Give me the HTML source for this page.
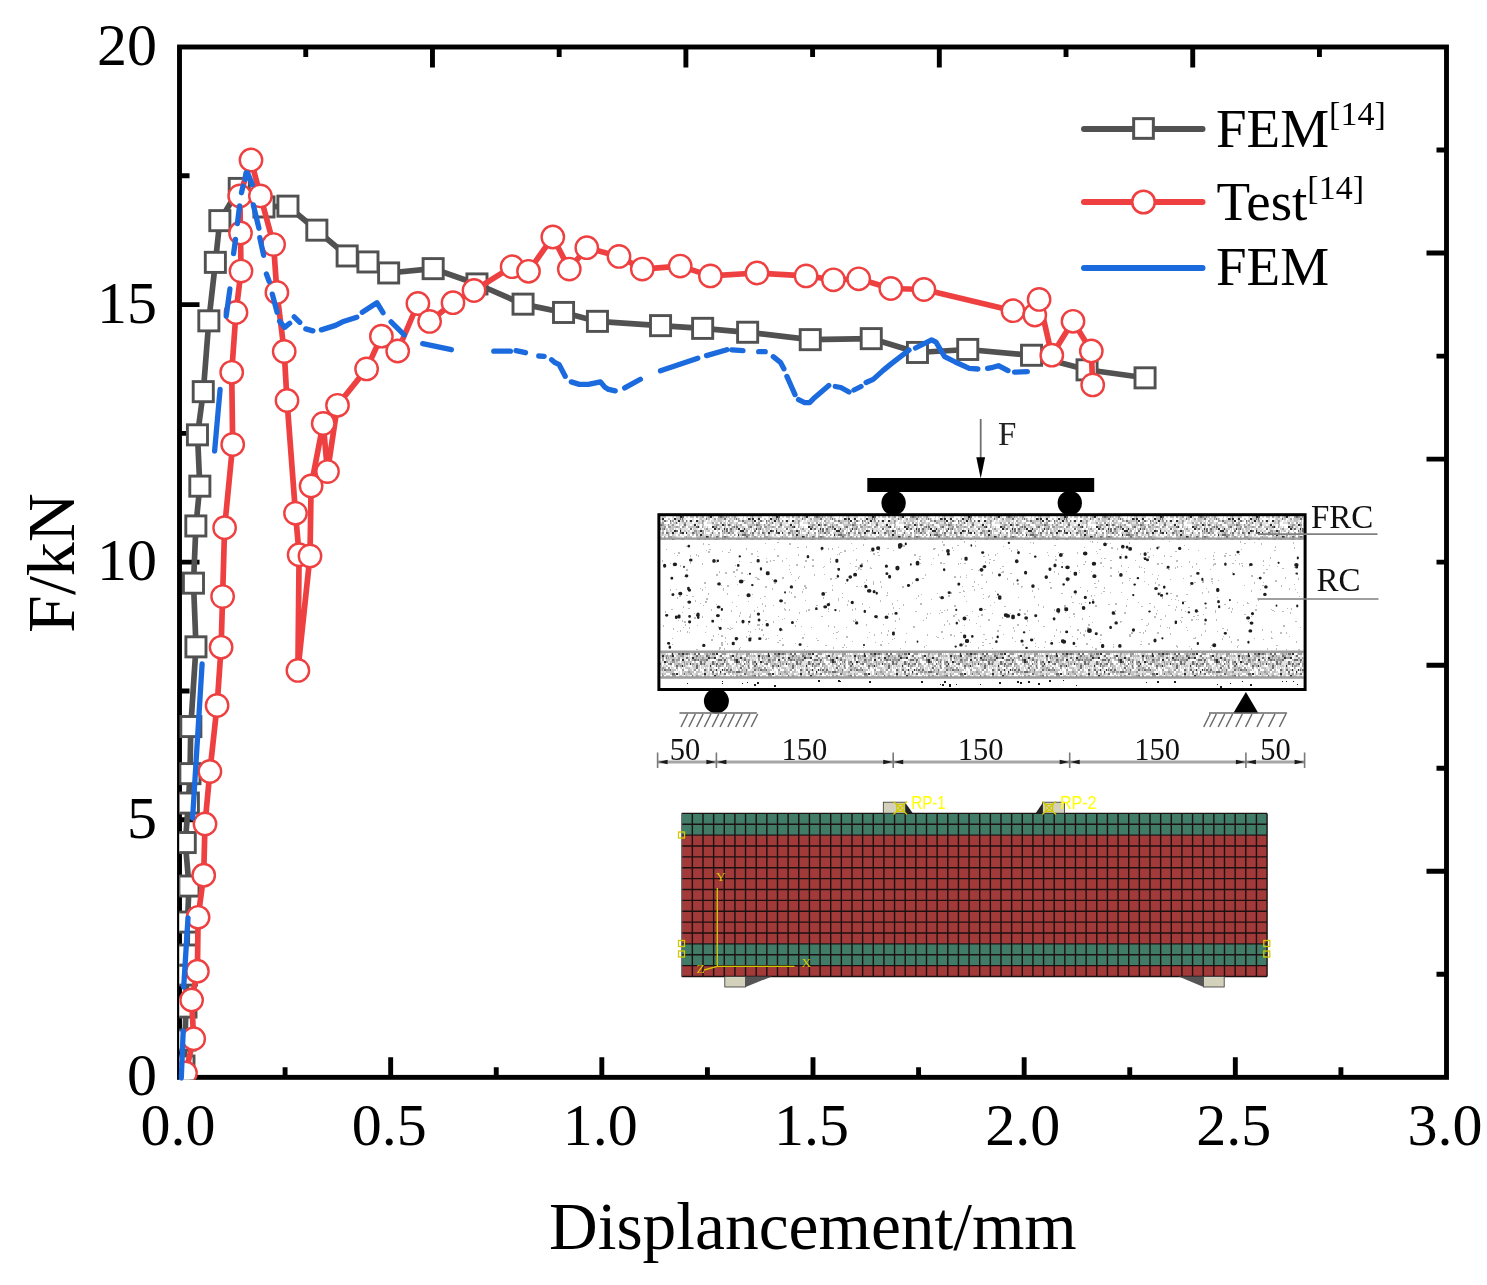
<!DOCTYPE html><html><head><meta charset="utf-8"><title>F-Displacement</title>
<style>html,body{margin:0;padding:0;background:#fff;overflow:hidden;width:1487px;height:1285px;}svg{display:block;}text{font-family:"Liberation Serif","Times New Roman",serif;}</style></head><body>
<svg width="1487" height="1285" viewBox="0 0 1487 1285">
<rect width="1487" height="1285" fill="#fff"/>
<defs>
<clipPath id="pc"><rect x="179.2" y="47.0" width="1267.3" height="1032.5"/></clipPath>
</defs>
<rect x="179.5" y="47.0" width="1267.0" height="1030.35" fill="none" stroke="#000" stroke-width="4.9"/>
<path d="M285.08,1077.35V1067.35M390.67,1077.35V1057.35M496.25,1077.35V1067.35M601.83,1077.35V1057.35M707.42,1077.35V1067.35M813.00,1077.35V1057.35M918.58,1077.35V1067.35M1024.17,1077.35V1057.35M1129.75,1077.35V1067.35M1235.33,1077.35V1057.35M1340.92,1077.35V1067.35M179.5,948.56H189.5M179.5,819.76H199.5M179.5,690.97H189.5M179.5,562.17H199.5M179.5,433.38H189.5M179.5,304.59H199.5M179.5,175.79H189.5M305.76,47.0V57.0M432.47,47.0V67.5M559.18,47.0V57.0M685.89,47.0V67.5M812.60,47.0V57.0M939.31,47.0V67.5M1066.02,47.0V57.0M1192.73,47.0V67.5M1319.44,47.0V57.0M1446.5,150.03H1436.5M1446.5,253.07H1426.5M1446.5,356.11H1436.5M1446.5,459.14H1426.5M1446.5,562.17H1436.5M1446.5,665.21H1426.5M1446.5,768.25H1436.5M1446.5,871.28H1426.5M1446.5,974.31H1436.5" stroke="#000" stroke-width="4.9" fill="none"/>
<g clip-path="url(#pc)">
<polyline points="180.5,1076.0 184.0,1066.0 185.0,1040.0 186.0,1007.0 186.5,975.0 187.0,955.0 187.5,922.0 189.0,886.0 185.3,842.5 188.4,803.0 190.0,773.6 190.8,726.5 196.0,646.8 193.5,583.1 195.9,525.9 199.8,486.2 197.5,434.9 203.3,391.7 208.8,320.9 215.4,262.4 219.8,220.7 239.3,188.5 264.0,207.0 288.0,206.2 316.8,230.2 347.2,256.0 368.0,262.0 388.6,273.0 433.2,268.7 477.0,284.0 523.0,304.1 563.5,312.5 597.4,321.4 660.5,325.6 702.6,328.4 747.6,332.3 810.3,339.6 871.2,338.6 917.4,352.5 967.7,349.5 1031.5,355.3 1087.0,369.8 1145.0,377.8" fill="none" stroke="#515151" stroke-width="5.7" stroke-linejoin="round"/>
<rect x="170.4" y="1066.0" width="20.1" height="20.1" fill="#fff" stroke="#515151" stroke-width="2.9"/>
<rect x="173.9" y="1056.0" width="20.1" height="20.1" fill="#fff" stroke="#515151" stroke-width="2.9"/>
<rect x="174.9" y="1030.0" width="20.1" height="20.1" fill="#fff" stroke="#515151" stroke-width="2.9"/>
<rect x="175.9" y="997.0" width="20.1" height="20.1" fill="#fff" stroke="#515151" stroke-width="2.9"/>
<rect x="176.4" y="965.0" width="20.1" height="20.1" fill="#fff" stroke="#515151" stroke-width="2.9"/>
<rect x="176.9" y="945.0" width="20.1" height="20.1" fill="#fff" stroke="#515151" stroke-width="2.9"/>
<rect x="177.4" y="912.0" width="20.1" height="20.1" fill="#fff" stroke="#515151" stroke-width="2.9"/>
<rect x="178.9" y="876.0" width="20.1" height="20.1" fill="#fff" stroke="#515151" stroke-width="2.9"/>
<rect x="175.2" y="832.5" width="20.1" height="20.1" fill="#fff" stroke="#515151" stroke-width="2.9"/>
<rect x="178.3" y="793.0" width="20.1" height="20.1" fill="#fff" stroke="#515151" stroke-width="2.9"/>
<rect x="179.9" y="763.6" width="20.1" height="20.1" fill="#fff" stroke="#515151" stroke-width="2.9"/>
<rect x="180.8" y="716.5" width="20.1" height="20.1" fill="#fff" stroke="#515151" stroke-width="2.9"/>
<rect x="185.9" y="636.8" width="20.1" height="20.1" fill="#fff" stroke="#515151" stroke-width="2.9"/>
<rect x="183.4" y="573.1" width="20.1" height="20.1" fill="#fff" stroke="#515151" stroke-width="2.9"/>
<rect x="185.8" y="515.9" width="20.1" height="20.1" fill="#fff" stroke="#515151" stroke-width="2.9"/>
<rect x="189.8" y="476.1" width="20.1" height="20.1" fill="#fff" stroke="#515151" stroke-width="2.9"/>
<rect x="187.4" y="424.8" width="20.1" height="20.1" fill="#fff" stroke="#515151" stroke-width="2.9"/>
<rect x="193.2" y="381.6" width="20.1" height="20.1" fill="#fff" stroke="#515151" stroke-width="2.9"/>
<rect x="198.8" y="310.8" width="20.1" height="20.1" fill="#fff" stroke="#515151" stroke-width="2.9"/>
<rect x="205.3" y="252.3" width="20.1" height="20.1" fill="#fff" stroke="#515151" stroke-width="2.9"/>
<rect x="209.8" y="210.6" width="20.1" height="20.1" fill="#fff" stroke="#515151" stroke-width="2.9"/>
<rect x="229.2" y="178.4" width="20.1" height="20.1" fill="#fff" stroke="#515151" stroke-width="2.9"/>
<rect x="253.9" y="196.9" width="20.1" height="20.1" fill="#fff" stroke="#515151" stroke-width="2.9"/>
<rect x="277.9" y="196.1" width="20.1" height="20.1" fill="#fff" stroke="#515151" stroke-width="2.9"/>
<rect x="306.8" y="220.1" width="20.1" height="20.1" fill="#fff" stroke="#515151" stroke-width="2.9"/>
<rect x="337.1" y="245.9" width="20.1" height="20.1" fill="#fff" stroke="#515151" stroke-width="2.9"/>
<rect x="357.9" y="251.9" width="20.1" height="20.1" fill="#fff" stroke="#515151" stroke-width="2.9"/>
<rect x="378.6" y="262.9" width="20.1" height="20.1" fill="#fff" stroke="#515151" stroke-width="2.9"/>
<rect x="423.1" y="258.6" width="20.1" height="20.1" fill="#fff" stroke="#515151" stroke-width="2.9"/>
<rect x="466.9" y="273.9" width="20.1" height="20.1" fill="#fff" stroke="#515151" stroke-width="2.9"/>
<rect x="513.0" y="294.1" width="20.1" height="20.1" fill="#fff" stroke="#515151" stroke-width="2.9"/>
<rect x="553.5" y="302.4" width="20.1" height="20.1" fill="#fff" stroke="#515151" stroke-width="2.9"/>
<rect x="587.4" y="311.3" width="20.1" height="20.1" fill="#fff" stroke="#515151" stroke-width="2.9"/>
<rect x="650.5" y="315.6" width="20.1" height="20.1" fill="#fff" stroke="#515151" stroke-width="2.9"/>
<rect x="692.6" y="318.3" width="20.1" height="20.1" fill="#fff" stroke="#515151" stroke-width="2.9"/>
<rect x="737.6" y="322.2" width="20.1" height="20.1" fill="#fff" stroke="#515151" stroke-width="2.9"/>
<rect x="800.2" y="329.6" width="20.1" height="20.1" fill="#fff" stroke="#515151" stroke-width="2.9"/>
<rect x="861.2" y="328.6" width="20.1" height="20.1" fill="#fff" stroke="#515151" stroke-width="2.9"/>
<rect x="907.4" y="342.4" width="20.1" height="20.1" fill="#fff" stroke="#515151" stroke-width="2.9"/>
<rect x="957.7" y="339.4" width="20.1" height="20.1" fill="#fff" stroke="#515151" stroke-width="2.9"/>
<rect x="1021.5" y="345.2" width="20.1" height="20.1" fill="#fff" stroke="#515151" stroke-width="2.9"/>
<rect x="1077.0" y="359.8" width="20.1" height="20.1" fill="#fff" stroke="#515151" stroke-width="2.9"/>
<rect x="1135.0" y="367.8" width="20.1" height="20.1" fill="#fff" stroke="#515151" stroke-width="2.9"/>
<polyline points="185.5,1073.0 193.7,1038.7 191.6,1000.0 197.4,971.2 198.1,917.3 203.7,875.2 205.0,824.0 209.9,771.5 217.1,705.4 221.1,647.3 222.6,596.6 224.6,527.7 232.7,444.4 231.7,372.3 236.0,312.4 241.0,271.1 240.5,233.0 239.8,195.9 251.0,160.0 260.4,195.9 273.6,244.6 276.9,292.4 284.2,351.5 287.0,400.5 295.5,513.3 299.1,554.7 297.9,670.4 310.0,555.9 311.1,486.0 323.2,423.4 327.5,471.6 337.5,405.3 366.6,368.9 381.4,336.2 397.7,351.0 417.9,303.5 429.6,321.4 453.0,302.7 474.0,290.5 512.1,266.7 528.5,271.3 552.8,237.0 569.3,269.1 586.8,247.7 619.0,256.4 642.3,269.1 680.2,266.1 710.4,275.9 757.0,273.0 806.1,275.9 833.4,279.8 858.7,278.8 890.8,288.5 923.9,289.5 1013.0,310.7 1034.8,315.0 1039.1,299.4 1051.8,355.2 1073.0,321.3 1091.3,351.0 1092.7,384.9" fill="none" stroke="#ee4040" stroke-width="5.7" stroke-linejoin="round"/>
<circle cx="185.5" cy="1073.0" r="11.2" fill="#fff" stroke="#ee4040" stroke-width="2.4"/>
<circle cx="193.7" cy="1038.7" r="11.2" fill="#fff" stroke="#ee4040" stroke-width="2.4"/>
<circle cx="191.6" cy="1000.0" r="11.2" fill="#fff" stroke="#ee4040" stroke-width="2.4"/>
<circle cx="197.4" cy="971.2" r="11.2" fill="#fff" stroke="#ee4040" stroke-width="2.4"/>
<circle cx="198.1" cy="917.3" r="11.2" fill="#fff" stroke="#ee4040" stroke-width="2.4"/>
<circle cx="203.7" cy="875.2" r="11.2" fill="#fff" stroke="#ee4040" stroke-width="2.4"/>
<circle cx="205.0" cy="824.0" r="11.2" fill="#fff" stroke="#ee4040" stroke-width="2.4"/>
<circle cx="209.9" cy="771.5" r="11.2" fill="#fff" stroke="#ee4040" stroke-width="2.4"/>
<circle cx="217.1" cy="705.4" r="11.2" fill="#fff" stroke="#ee4040" stroke-width="2.4"/>
<circle cx="221.1" cy="647.3" r="11.2" fill="#fff" stroke="#ee4040" stroke-width="2.4"/>
<circle cx="222.6" cy="596.6" r="11.2" fill="#fff" stroke="#ee4040" stroke-width="2.4"/>
<circle cx="224.6" cy="527.7" r="11.2" fill="#fff" stroke="#ee4040" stroke-width="2.4"/>
<circle cx="232.7" cy="444.4" r="11.2" fill="#fff" stroke="#ee4040" stroke-width="2.4"/>
<circle cx="231.7" cy="372.3" r="11.2" fill="#fff" stroke="#ee4040" stroke-width="2.4"/>
<circle cx="236.0" cy="312.4" r="11.2" fill="#fff" stroke="#ee4040" stroke-width="2.4"/>
<circle cx="241.0" cy="271.1" r="11.2" fill="#fff" stroke="#ee4040" stroke-width="2.4"/>
<circle cx="240.5" cy="233.0" r="11.2" fill="#fff" stroke="#ee4040" stroke-width="2.4"/>
<circle cx="239.8" cy="195.9" r="11.2" fill="#fff" stroke="#ee4040" stroke-width="2.4"/>
<circle cx="251.0" cy="160.0" r="11.2" fill="#fff" stroke="#ee4040" stroke-width="2.4"/>
<circle cx="260.4" cy="195.9" r="11.2" fill="#fff" stroke="#ee4040" stroke-width="2.4"/>
<circle cx="273.6" cy="244.6" r="11.2" fill="#fff" stroke="#ee4040" stroke-width="2.4"/>
<circle cx="276.9" cy="292.4" r="11.2" fill="#fff" stroke="#ee4040" stroke-width="2.4"/>
<circle cx="284.2" cy="351.5" r="11.2" fill="#fff" stroke="#ee4040" stroke-width="2.4"/>
<circle cx="287.0" cy="400.5" r="11.2" fill="#fff" stroke="#ee4040" stroke-width="2.4"/>
<circle cx="295.5" cy="513.3" r="11.2" fill="#fff" stroke="#ee4040" stroke-width="2.4"/>
<circle cx="299.1" cy="554.7" r="11.2" fill="#fff" stroke="#ee4040" stroke-width="2.4"/>
<circle cx="297.9" cy="670.4" r="11.2" fill="#fff" stroke="#ee4040" stroke-width="2.4"/>
<circle cx="310.0" cy="555.9" r="11.2" fill="#fff" stroke="#ee4040" stroke-width="2.4"/>
<circle cx="311.1" cy="486.0" r="11.2" fill="#fff" stroke="#ee4040" stroke-width="2.4"/>
<circle cx="323.2" cy="423.4" r="11.2" fill="#fff" stroke="#ee4040" stroke-width="2.4"/>
<circle cx="327.5" cy="471.6" r="11.2" fill="#fff" stroke="#ee4040" stroke-width="2.4"/>
<circle cx="337.5" cy="405.3" r="11.2" fill="#fff" stroke="#ee4040" stroke-width="2.4"/>
<circle cx="366.6" cy="368.9" r="11.2" fill="#fff" stroke="#ee4040" stroke-width="2.4"/>
<circle cx="381.4" cy="336.2" r="11.2" fill="#fff" stroke="#ee4040" stroke-width="2.4"/>
<circle cx="397.7" cy="351.0" r="11.2" fill="#fff" stroke="#ee4040" stroke-width="2.4"/>
<circle cx="417.9" cy="303.5" r="11.2" fill="#fff" stroke="#ee4040" stroke-width="2.4"/>
<circle cx="429.6" cy="321.4" r="11.2" fill="#fff" stroke="#ee4040" stroke-width="2.4"/>
<circle cx="453.0" cy="302.7" r="11.2" fill="#fff" stroke="#ee4040" stroke-width="2.4"/>
<circle cx="474.0" cy="290.5" r="11.2" fill="#fff" stroke="#ee4040" stroke-width="2.4"/>
<circle cx="512.1" cy="266.7" r="11.2" fill="#fff" stroke="#ee4040" stroke-width="2.4"/>
<circle cx="528.5" cy="271.3" r="11.2" fill="#fff" stroke="#ee4040" stroke-width="2.4"/>
<circle cx="552.8" cy="237.0" r="11.2" fill="#fff" stroke="#ee4040" stroke-width="2.4"/>
<circle cx="569.3" cy="269.1" r="11.2" fill="#fff" stroke="#ee4040" stroke-width="2.4"/>
<circle cx="586.8" cy="247.7" r="11.2" fill="#fff" stroke="#ee4040" stroke-width="2.4"/>
<circle cx="619.0" cy="256.4" r="11.2" fill="#fff" stroke="#ee4040" stroke-width="2.4"/>
<circle cx="642.3" cy="269.1" r="11.2" fill="#fff" stroke="#ee4040" stroke-width="2.4"/>
<circle cx="680.2" cy="266.1" r="11.2" fill="#fff" stroke="#ee4040" stroke-width="2.4"/>
<circle cx="710.4" cy="275.9" r="11.2" fill="#fff" stroke="#ee4040" stroke-width="2.4"/>
<circle cx="757.0" cy="273.0" r="11.2" fill="#fff" stroke="#ee4040" stroke-width="2.4"/>
<circle cx="806.1" cy="275.9" r="11.2" fill="#fff" stroke="#ee4040" stroke-width="2.4"/>
<circle cx="833.4" cy="279.8" r="11.2" fill="#fff" stroke="#ee4040" stroke-width="2.4"/>
<circle cx="858.7" cy="278.8" r="11.2" fill="#fff" stroke="#ee4040" stroke-width="2.4"/>
<circle cx="890.8" cy="288.5" r="11.2" fill="#fff" stroke="#ee4040" stroke-width="2.4"/>
<circle cx="923.9" cy="289.5" r="11.2" fill="#fff" stroke="#ee4040" stroke-width="2.4"/>
<circle cx="1013.0" cy="310.7" r="11.2" fill="#fff" stroke="#ee4040" stroke-width="2.4"/>
<circle cx="1034.8" cy="315.0" r="11.2" fill="#fff" stroke="#ee4040" stroke-width="2.4"/>
<circle cx="1039.1" cy="299.4" r="11.2" fill="#fff" stroke="#ee4040" stroke-width="2.4"/>
<circle cx="1051.8" cy="355.2" r="11.2" fill="#fff" stroke="#ee4040" stroke-width="2.4"/>
<circle cx="1073.0" cy="321.3" r="11.2" fill="#fff" stroke="#ee4040" stroke-width="2.4"/>
<circle cx="1091.3" cy="351.0" r="11.2" fill="#fff" stroke="#ee4040" stroke-width="2.4"/>
<circle cx="1092.7" cy="384.9" r="11.2" fill="#fff" stroke="#ee4040" stroke-width="2.4"/>
</g>
<path d="M181.3,1078.0 L183.2,1031.0M183.7,987.0 L188.0,918.0M192.6,818.0 L202.1,664.0M214.6,451.0 L220.1,389.3M226.2,316.1 L229.9,289.0M233.6,253.5 L235.5,239.4M237.4,223.6 L239.6,205.8M241.5,192.7 L243.0,186.2M245.0,179.5 L246.0,172.8 L247.6,173.0 L252.3,184.5M253.3,204.9 L258.9,228.2M259.8,237.6 L263.6,255.3M266.4,274.0 L269.2,281.5M272.3,294.1 L277.1,312.2M279.6,321.3 L284.6,327.4 L289.7,323.3M294.2,316.8 L299.8,322.3M305.8,328.9 L312.9,330.9M321.4,329.9 L335.6,325.4 L342.6,321.8 L356.8,317.3M362.3,312.2 L376.9,302.7 L383.0,312.7M391.1,321.8 L404.2,334.9M422.7,343.6 L451.4,349.7M493.8,351.2 L510.4,351.2M516.0,350.7 L525.5,352.7M538.7,356.0 L544.2,356.4M551.6,359.7 L555.1,362.7 L559.2,364.7 L565.2,376.3M571.3,381.9 L579.3,384.4 L588.4,384.4 L600.5,381.9 L604.6,386.9 L608.6,389.4 L615.2,390.9M624.7,387.9 L640.4,379.3M660.5,370.8 L697.8,358.3M706.5,355.6 L726.9,349.8M731.8,349.8 L743.0,350.7M758.7,351.7 L765.2,351.7M773.3,356.7 L780.4,362.3 L783.9,368.8M786.9,376.4 L791.4,386.5 L795.0,394.6M798.5,399.6 L804.6,402.6 L809.6,402.6 L813.6,398.6 L828.8,385.5M835.3,386.5 L840.9,387.5 L849.0,392.0M854.0,390.0 L861.0,386.5M866.1,382.5 L873.2,379.4 L883.2,370.4 L890.8,364.1 L909.0,350.1M915.5,348.0 L931.6,339.9 L936.0,342.1 L944.6,356.6 L955.3,362.0 L969.3,368.4 L977.9,369.0M987.6,368.4 L993.0,367.3 L998.4,365.7 L1008.0,370.6M1014.5,372.2 L1027.4,371.6" fill="none" stroke="#1b6bdf" stroke-width="5.3" stroke-linecap="round" stroke-linejoin="round"/>
<text x="178.0" y="1144.5" font-size="60" text-anchor="middle">0.0</text>
<text x="389.2" y="1144.5" font-size="60" text-anchor="middle">0.5</text>
<text x="600.3" y="1144.5" font-size="60" text-anchor="middle">1.0</text>
<text x="811.5" y="1144.5" font-size="60" text-anchor="middle">1.5</text>
<text x="1022.7" y="1144.5" font-size="60" text-anchor="middle">2.0</text>
<text x="1233.8" y="1144.5" font-size="60" text-anchor="middle">2.5</text>
<text x="1445.0" y="1144.5" font-size="60" text-anchor="middle">3.0</text>
<text x="157" y="1095.3" font-size="60" text-anchor="end">0</text>
<text x="157" y="837.8" font-size="60" text-anchor="end">5</text>
<text x="157" y="580.2" font-size="60" text-anchor="end">10</text>
<text x="157" y="322.6" font-size="60" text-anchor="end">15</text>
<text x="157" y="65.0" font-size="60" text-anchor="end">20</text>
<text x="812.9" y="1249" font-size="67.4" text-anchor="middle">Displancement/mm</text>
<text transform="translate(74.2,563) rotate(-90)" font-size="68" text-anchor="middle">F/kN</text>
<path d="M1084,128.9H1202.5" stroke="#515151" stroke-width="6" stroke-linecap="round"/>
<rect x="1133.65" y="118.65" width="19.7" height="19.7" fill="#fff" stroke="#515151" stroke-width="3"/>
<path d="M1084,202H1202.5" stroke="#ee4040" stroke-width="6" stroke-linecap="round"/>
<circle cx="1143.5" cy="202" r="11.3" fill="#fff" stroke="#ee4040" stroke-width="2.6"/>
<path d="M1084,268H1202.5" stroke="#1b6bdf" stroke-width="6" stroke-linecap="round"/>
<text x="1216" y="147.1" font-size="55">FEM<tspan font-size="34" dy="-22.4">[14]</tspan></text>
<text x="1216.5" y="219.9" font-size="55">Test<tspan font-size="34" dy="-20.8">[14]</tspan></text>
<text x="1216" y="285.3" font-size="55">FEM</text>
<defs>
<filter id="bl" x="-2%" y="-10%" width="104%" height="120%"><feGaussianBlur stdDeviation="0.8"/></filter>
<pattern id="frcA" patternUnits="userSpaceOnUse" x="660" y="516" width="96" height="24"><rect width="96" height="24" fill="#d0d0d0"/><path fill="#ffffff" d="M6 0h2v2h-2zM8 0h2v2h-2zM10 0h2v2h-2zM14 0h2v2h-2zM24 0h2v2h-2zM28 0h2v2h-2zM34 0h2v2h-2zM44 0h2v2h-2zM54 0h2v2h-2zM56 0h2v2h-2zM70 0h1v2h-1zM78 0h2v2h-2zM80 0h2v2h-2zM82 0h1v2h-1zM84 0h2v2h-2zM88 0h2v2h-2zM4 2h2v2h-2zM6 2h2v2h-2zM10 2h2v2h-2zM26 2h2v2h-2zM28 2h2v2h-2zM30 2h2v2h-2zM34 2h2v2h-2zM36 2h2v2h-2zM38 2h1v2h-1zM50 2h2v2h-2zM56 2h1v2h-1zM68 2h1v2h-1zM80 2h2v2h-2zM84 2h2v2h-2zM94 2h2v2h-2zM0 4h2v2h-2zM8 4h2v2h-2zM14 4h1v2h-1zM24 4h2v2h-2zM28 4h1v2h-1zM34 4h2v2h-2zM46 4h2v2h-2zM50 4h1v2h-1zM64 4h1v2h-1zM66 4h2v2h-2zM74 4h2v2h-2zM76 4h2v2h-2zM4 6h2v2h-2zM6 6h2v2h-2zM8 6h2v2h-2zM12 6h1v2h-1zM18 6h1v2h-1zM32 6h2v2h-2zM44 6h2v2h-2zM46 6h1v2h-1zM54 6h1v2h-1zM58 6h2v2h-2zM62 6h1v2h-1zM66 6h1v2h-1zM68 6h1v2h-1zM78 6h2v2h-2zM80 6h2v2h-2zM94 6h2v2h-2zM16 8h2v2h-2zM18 8h1v2h-1zM22 8h1v2h-1zM30 8h2v2h-2zM36 8h1v2h-1zM40 8h2v2h-2zM44 8h2v2h-2zM46 8h2v2h-2zM48 8h2v2h-2zM50 8h2v2h-2zM66 8h1v2h-1zM72 8h2v2h-2zM82 8h2v2h-2zM84 8h2v2h-2zM86 8h1v2h-1zM6 10h2v2h-2zM20 10h2v2h-2zM26 10h2v2h-2zM40 10h2v2h-2zM46 10h1v2h-1zM48 10h2v2h-2zM50 10h2v2h-2zM58 10h1v2h-1zM62 10h2v2h-2zM66 10h2v2h-2zM70 10h1v2h-1zM86 10h2v2h-2zM94 10h2v2h-2zM8 12h1v2h-1zM14 12h1v2h-1zM16 12h2v2h-2zM28 12h2v2h-2zM32 12h1v2h-1zM38 12h2v2h-2zM42 12h2v2h-2zM52 12h2v2h-2zM68 12h1v2h-1zM80 12h2v2h-2zM90 12h1v2h-1zM92 12h1v2h-1zM0 14h2v2h-2zM4 14h2v2h-2zM18 14h2v2h-2zM30 14h2v2h-2zM44 14h1v2h-1zM50 14h2v2h-2zM54 14h2v2h-2zM56 14h1v2h-1zM58 14h2v2h-2zM60 14h2v2h-2zM68 14h1v2h-1zM76 14h2v2h-2zM88 14h2v2h-2zM92 14h2v2h-2zM4 16h2v2h-2zM18 16h1v2h-1zM24 16h2v2h-2zM44 16h1v2h-1zM46 16h2v2h-2zM48 16h2v2h-2zM56 16h2v2h-2zM60 16h2v2h-2zM74 16h2v2h-2zM76 16h1v2h-1zM88 16h2v2h-2zM0 18h1v2h-1zM10 18h2v2h-2zM16 18h2v2h-2zM20 18h2v2h-2zM24 18h2v2h-2zM26 18h1v2h-1zM30 18h2v2h-2zM34 18h2v2h-2zM52 18h1v2h-1zM60 18h2v2h-2zM64 18h2v2h-2zM68 18h2v2h-2zM72 18h2v2h-2zM76 18h2v2h-2zM94 18h2v2h-2zM2 20h2v2h-2zM6 20h2v2h-2zM22 20h2v2h-2zM32 20h2v2h-2zM34 20h2v2h-2zM52 20h1v2h-1zM60 20h2v2h-2zM70 20h2v2h-2zM74 20h2v2h-2zM76 20h1v2h-1zM80 20h1v2h-1zM82 20h2v2h-2zM90 20h1v2h-1zM6 22h1v2h-1zM8 22h1v2h-1zM16 22h2v2h-2zM18 22h2v2h-2zM24 22h2v2h-2zM26 22h2v2h-2zM34 22h2v2h-2zM40 22h2v2h-2zM60 22h2v2h-2zM66 22h2v2h-2zM72 22h2v2h-2zM86 22h2v2h-2zM88 22h2v2h-2z"/><path fill="#e2e2e2" d="M0 0h2v2h-2zM12 0h1v2h-1zM26 0h1v2h-1zM38 0h2v2h-2zM52 0h1v2h-1zM76 0h2v2h-2zM86 0h1v2h-1zM94 0h2v2h-2zM0 2h1v2h-1zM12 2h2v2h-2zM24 2h2v2h-2zM32 2h2v2h-2zM42 2h2v2h-2zM44 2h2v2h-2zM52 2h2v2h-2zM66 2h2v2h-2zM72 2h2v2h-2zM82 2h2v2h-2zM86 2h2v2h-2zM16 4h1v2h-1zM20 4h1v2h-1zM32 4h2v2h-2zM40 4h1v2h-1zM44 4h2v2h-2zM48 4h2v2h-2zM52 4h2v2h-2zM56 4h1v2h-1zM62 4h2v2h-2zM70 4h2v2h-2zM20 6h2v2h-2zM26 6h2v2h-2zM28 6h2v2h-2zM30 6h1v2h-1zM34 6h2v2h-2zM36 6h2v2h-2zM48 6h2v2h-2zM50 6h1v2h-1zM74 6h2v2h-2zM82 6h2v2h-2zM88 6h2v2h-2zM90 6h2v2h-2zM6 8h2v2h-2zM10 8h1v2h-1zM14 8h2v2h-2zM20 8h2v2h-2zM26 8h2v2h-2zM28 8h2v2h-2zM32 8h1v2h-1zM38 8h2v2h-2zM52 8h2v2h-2zM60 8h2v2h-2zM44 10h2v2h-2zM68 10h1v2h-1zM78 10h2v2h-2zM84 10h2v2h-2zM92 10h2v2h-2zM18 12h2v2h-2zM22 12h2v2h-2zM24 12h2v2h-2zM26 12h2v2h-2zM36 12h2v2h-2zM40 12h2v2h-2zM48 12h2v2h-2zM50 12h2v2h-2zM60 12h2v2h-2zM62 12h2v2h-2zM74 12h1v2h-1zM8 14h2v2h-2zM12 14h2v2h-2zM22 14h2v2h-2zM26 14h2v2h-2zM32 14h2v2h-2zM46 14h1v2h-1zM74 14h2v2h-2zM78 14h2v2h-2zM84 14h1v2h-1zM90 14h1v2h-1zM0 16h1v2h-1zM10 16h2v2h-2zM14 16h1v2h-1zM16 16h2v2h-2zM28 16h2v2h-2zM30 16h2v2h-2zM40 16h2v2h-2zM50 16h1v2h-1zM54 16h2v2h-2zM80 16h1v2h-1zM94 16h2v2h-2zM4 18h1v2h-1zM6 18h2v2h-2zM14 18h2v2h-2zM22 18h2v2h-2zM38 18h2v2h-2zM44 18h1v2h-1zM48 18h2v2h-2zM54 18h1v2h-1zM56 18h1v2h-1zM66 18h2v2h-2zM90 18h1v2h-1zM16 20h2v2h-2zM18 20h2v2h-2zM20 20h2v2h-2zM10 22h2v2h-2zM20 22h2v2h-2zM28 22h2v2h-2zM30 22h2v2h-2zM46 22h2v2h-2zM50 22h2v2h-2zM52 22h1v2h-1zM74 22h2v2h-2zM94 22h2v2h-2z"/><path fill="#c2c2c2" d="M2 0h2v2h-2zM4 0h2v2h-2zM16 0h1v2h-1zM18 0h2v2h-2zM30 0h2v2h-2zM32 0h2v2h-2zM40 0h2v2h-2zM46 0h1v2h-1zM64 0h2v2h-2zM68 0h2v2h-2zM72 0h1v2h-1zM90 0h1v2h-1zM8 2h2v2h-2zM16 2h2v2h-2zM18 2h2v2h-2zM40 2h2v2h-2zM48 2h2v2h-2zM58 2h2v2h-2zM60 2h2v2h-2zM62 2h1v2h-1zM70 2h1v2h-1zM2 4h1v2h-1zM6 4h1v2h-1zM38 4h1v2h-1zM54 4h1v2h-1zM58 4h2v2h-2zM60 4h2v2h-2zM72 4h1v2h-1zM80 4h1v2h-1zM84 4h2v2h-2zM86 4h2v2h-2zM88 4h2v2h-2zM90 4h1v2h-1zM0 6h1v2h-1zM14 6h2v2h-2zM38 6h2v2h-2zM56 6h1v2h-1zM64 6h1v2h-1zM70 6h2v2h-2zM72 6h1v2h-1zM76 6h2v2h-2zM86 6h2v2h-2zM4 8h1v2h-1zM42 8h2v2h-2zM54 8h2v2h-2zM74 8h1v2h-1zM78 8h1v2h-1zM88 8h2v2h-2zM90 8h2v2h-2zM92 8h2v2h-2zM0 10h2v2h-2zM2 10h2v2h-2zM12 10h2v2h-2zM14 10h2v2h-2zM18 10h2v2h-2zM24 10h2v2h-2zM28 10h2v2h-2zM30 10h2v2h-2zM32 10h2v2h-2zM34 10h2v2h-2zM60 10h2v2h-2zM64 10h2v2h-2zM82 10h2v2h-2zM6 12h1v2h-1zM10 12h1v2h-1zM12 12h2v2h-2zM44 12h1v2h-1zM56 12h2v2h-2zM72 12h2v2h-2zM82 12h2v2h-2zM86 12h1v2h-1zM88 12h2v2h-2zM94 12h2v2h-2zM2 14h2v2h-2zM6 14h2v2h-2zM10 14h2v2h-2zM24 14h2v2h-2zM28 14h1v2h-1zM38 14h2v2h-2zM48 14h2v2h-2zM52 14h1v2h-1zM72 14h2v2h-2zM38 16h2v2h-2zM62 16h2v2h-2zM66 16h2v2h-2zM70 16h2v2h-2zM78 16h2v2h-2zM82 16h2v2h-2zM2 18h1v2h-1zM12 18h2v2h-2zM18 18h2v2h-2zM28 18h2v2h-2zM32 18h2v2h-2zM42 18h2v2h-2zM58 18h2v2h-2zM62 18h1v2h-1zM70 18h1v2h-1zM80 18h2v2h-2zM0 20h2v2h-2zM12 20h2v2h-2zM14 20h2v2h-2zM24 20h2v2h-2zM28 20h2v2h-2zM30 20h2v2h-2zM36 20h2v2h-2zM38 20h2v2h-2zM42 20h2v2h-2zM44 20h2v2h-2zM54 20h1v2h-1zM68 20h1v2h-1zM72 20h2v2h-2zM78 20h1v2h-1zM84 20h2v2h-2zM88 20h1v2h-1zM92 20h2v2h-2zM2 22h2v2h-2zM14 22h2v2h-2zM32 22h2v2h-2zM36 22h2v2h-2zM42 22h1v2h-1zM48 22h2v2h-2zM58 22h2v2h-2zM64 22h1v2h-1zM68 22h2v2h-2zM70 22h1v2h-1zM82 22h1v2h-1zM84 22h2v2h-2z"/><path fill="#9c9c9c" d="M36 0h2v2h-2zM42 0h2v2h-2zM48 0h2v2h-2zM58 0h2v2h-2zM62 0h2v2h-2zM66 0h1v2h-1zM74 0h2v2h-2zM92 0h1v2h-1zM54 2h2v2h-2zM74 2h1v2h-1zM78 2h1v2h-1zM12 4h2v2h-2zM22 4h2v2h-2zM42 4h2v2h-2zM68 4h2v2h-2zM78 4h2v2h-2zM92 4h1v2h-1zM2 6h2v2h-2zM10 6h1v2h-1zM24 6h2v2h-2zM42 6h1v2h-1zM52 6h2v2h-2zM60 6h2v2h-2zM84 6h2v2h-2zM92 6h2v2h-2zM2 8h2v2h-2zM8 8h1v2h-1zM12 8h2v2h-2zM56 8h2v2h-2zM58 8h1v2h-1zM64 8h2v2h-2zM70 8h1v2h-1zM76 8h1v2h-1zM80 8h2v2h-2zM94 8h1v2h-1zM4 10h2v2h-2zM8 10h2v2h-2zM10 10h1v2h-1zM16 10h2v2h-2zM22 10h2v2h-2zM42 10h1v2h-1zM54 10h2v2h-2zM72 10h2v2h-2zM88 10h2v2h-2zM2 12h2v2h-2zM20 12h1v2h-1zM46 12h2v2h-2zM76 12h1v2h-1zM34 14h2v2h-2zM36 14h1v2h-1zM42 14h2v2h-2zM64 14h1v2h-1zM70 14h2v2h-2zM86 14h2v2h-2zM2 16h2v2h-2zM8 16h1v2h-1zM34 16h1v2h-1zM36 16h1v2h-1zM42 16h2v2h-2zM58 16h2v2h-2zM64 16h1v2h-1zM72 16h2v2h-2zM84 16h2v2h-2zM90 16h1v2h-1zM8 18h1v2h-1zM36 18h2v2h-2zM50 18h2v2h-2zM74 18h1v2h-1zM86 18h2v2h-2zM88 18h2v2h-2zM92 18h2v2h-2zM4 20h1v2h-1zM8 20h2v2h-2zM10 20h2v2h-2zM26 20h1v2h-1zM40 20h1v2h-1zM50 20h1v2h-1zM58 20h1v2h-1zM62 20h2v2h-2zM66 20h2v2h-2zM94 20h2v2h-2zM4 22h2v2h-2zM44 22h2v2h-2zM54 22h2v2h-2zM62 22h2v2h-2zM78 22h2v2h-2zM90 22h2v2h-2z"/><path fill="#6c6c6c" d="M22 0h2v2h-2zM60 0h2v2h-2zM20 2h1v2h-1zM22 2h1v2h-1zM46 2h1v2h-1zM64 2h2v2h-2zM76 2h1v2h-1zM90 2h1v2h-1zM4 4h2v2h-2zM10 4h1v2h-1zM26 4h1v2h-1zM82 4h2v2h-2zM16 6h1v2h-1zM0 8h2v2h-2zM24 8h2v2h-2zM68 8h2v2h-2zM36 10h2v2h-2zM56 10h1v2h-1zM74 10h1v2h-1zM76 10h2v2h-2zM90 10h2v2h-2zM4 12h1v2h-1zM30 12h2v2h-2zM58 12h2v2h-2zM66 12h2v2h-2zM70 12h2v2h-2zM16 14h2v2h-2zM62 14h1v2h-1zM66 14h2v2h-2zM94 14h2v2h-2zM6 16h2v2h-2zM20 16h2v2h-2zM32 16h2v2h-2zM52 16h1v2h-1zM68 16h2v2h-2zM92 16h2v2h-2zM82 18h2v2h-2zM84 18h2v2h-2zM48 20h1v2h-1zM56 20h2v2h-2zM64 20h2v2h-2zM86 20h2v2h-2zM22 22h2v2h-2zM38 22h2v2h-2zM56 22h2v2h-2zM76 22h1v2h-1zM80 22h1v2h-1zM92 22h1v2h-1z"/><path fill="#2c2c2c" d="M20 0h2v2h-2zM50 0h2v2h-2zM2 2h2v2h-2zM14 2h2v2h-2zM88 2h2v2h-2zM92 2h2v2h-2zM18 4h2v2h-2zM30 4h2v2h-2zM36 4h2v2h-2zM94 4h2v2h-2zM34 8h2v2h-2zM62 8h2v2h-2zM38 10h1v2h-1zM52 10h2v2h-2zM0 12h1v2h-1zM54 12h2v2h-2zM64 12h1v2h-1zM78 12h2v2h-2zM84 12h1v2h-1zM14 14h2v2h-2zM20 14h1v2h-1zM40 14h2v2h-2zM80 14h2v2h-2zM82 14h2v2h-2zM12 16h2v2h-2zM22 16h2v2h-2zM26 16h1v2h-1zM40 18h2v2h-2zM78 18h1v2h-1zM46 20h2v2h-2zM12 22h2v2h-2z"/></pattern>
<pattern id="frcB" patternUnits="userSpaceOnUse" x="660" y="653" width="96" height="24"><rect width="96" height="24" fill="#d0d0d0"/><path fill="#ffffff" d="M6 0h1v2h-1zM8 0h2v2h-2zM10 0h1v2h-1zM36 0h2v2h-2zM40 0h2v2h-2zM42 0h2v2h-2zM58 0h2v2h-2zM60 0h1v2h-1zM68 0h1v2h-1zM70 0h2v2h-2zM90 0h1v2h-1zM92 0h1v2h-1zM94 0h2v2h-2zM0 2h1v2h-1zM14 2h2v2h-2zM28 2h1v2h-1zM30 2h2v2h-2zM56 2h2v2h-2zM62 2h2v2h-2zM66 2h2v2h-2zM68 2h1v2h-1zM82 2h2v2h-2zM84 2h2v2h-2zM4 4h1v2h-1zM56 4h2v2h-2zM72 4h2v2h-2zM88 4h1v2h-1zM0 6h2v2h-2zM4 6h2v2h-2zM20 6h2v2h-2zM26 6h2v2h-2zM30 6h1v2h-1zM50 6h2v2h-2zM52 6h2v2h-2zM54 6h2v2h-2zM68 6h2v2h-2zM80 6h1v2h-1zM20 8h1v2h-1zM32 8h2v2h-2zM36 8h2v2h-2zM38 8h1v2h-1zM56 8h1v2h-1zM68 8h2v2h-2zM70 8h2v2h-2zM72 8h2v2h-2zM80 8h1v2h-1zM82 8h1v2h-1zM84 8h2v2h-2zM90 8h2v2h-2zM2 10h2v2h-2zM6 10h2v2h-2zM12 10h2v2h-2zM64 10h2v2h-2zM70 10h2v2h-2zM74 10h2v2h-2zM82 10h2v2h-2zM90 10h2v2h-2zM2 12h1v2h-1zM8 12h2v2h-2zM12 12h2v2h-2zM28 12h2v2h-2zM30 12h2v2h-2zM40 12h1v2h-1zM52 12h2v2h-2zM64 12h2v2h-2zM72 12h2v2h-2zM78 12h2v2h-2zM84 12h1v2h-1zM86 12h1v2h-1zM90 12h2v2h-2zM92 12h1v2h-1zM6 14h2v2h-2zM10 14h1v2h-1zM14 14h2v2h-2zM18 14h2v2h-2zM22 14h1v2h-1zM24 14h1v2h-1zM40 14h1v2h-1zM44 14h1v2h-1zM48 14h1v2h-1zM54 14h2v2h-2zM56 14h2v2h-2zM60 14h2v2h-2zM62 14h2v2h-2zM66 14h2v2h-2zM72 14h1v2h-1zM76 14h1v2h-1zM82 14h1v2h-1zM90 14h2v2h-2zM16 16h1v2h-1zM18 16h2v2h-2zM20 16h2v2h-2zM24 16h2v2h-2zM26 16h2v2h-2zM32 16h1v2h-1zM36 16h2v2h-2zM40 16h2v2h-2zM42 16h2v2h-2zM48 16h1v2h-1zM76 16h2v2h-2zM80 16h1v2h-1zM88 16h2v2h-2zM14 18h2v2h-2zM16 18h2v2h-2zM20 18h2v2h-2zM34 18h2v2h-2zM42 18h2v2h-2zM50 18h2v2h-2zM54 18h2v2h-2zM58 18h2v2h-2zM62 18h2v2h-2zM6 20h2v2h-2zM8 20h2v2h-2zM20 20h2v2h-2zM38 20h2v2h-2zM58 20h1v2h-1zM66 20h2v2h-2zM70 20h2v2h-2zM82 20h2v2h-2zM0 22h2v2h-2zM4 22h2v2h-2zM10 22h2v2h-2zM16 22h2v2h-2zM18 22h1v2h-1zM24 22h1v2h-1zM30 22h2v2h-2zM42 22h2v2h-2zM50 22h2v2h-2zM62 22h1v2h-1zM66 22h2v2h-2zM68 22h2v2h-2zM72 22h1v2h-1zM74 22h2v2h-2zM86 22h1v2h-1z"/><path fill="#e2e2e2" d="M0 0h1v2h-1zM14 0h1v2h-1zM16 0h2v2h-2zM30 0h2v2h-2zM66 0h2v2h-2zM72 0h2v2h-2zM74 0h2v2h-2zM78 0h1v2h-1zM84 0h2v2h-2zM24 2h2v2h-2zM26 2h1v2h-1zM32 2h1v2h-1zM44 2h2v2h-2zM50 2h1v2h-1zM58 2h1v2h-1zM64 2h2v2h-2zM74 2h1v2h-1zM78 2h2v2h-2zM0 4h2v2h-2zM16 4h1v2h-1zM20 4h2v2h-2zM24 4h2v2h-2zM30 4h2v2h-2zM58 4h2v2h-2zM60 4h2v2h-2zM64 4h2v2h-2zM86 4h2v2h-2zM90 4h1v2h-1zM92 4h2v2h-2zM94 4h2v2h-2zM10 6h1v2h-1zM24 6h2v2h-2zM48 6h2v2h-2zM66 6h1v2h-1zM90 6h2v2h-2zM94 6h1v2h-1zM0 8h2v2h-2zM2 8h2v2h-2zM8 8h2v2h-2zM18 8h2v2h-2zM42 8h1v2h-1zM46 8h2v2h-2zM48 8h2v2h-2zM50 8h2v2h-2zM60 8h2v2h-2zM62 8h2v2h-2zM22 10h2v2h-2zM28 10h2v2h-2zM38 10h2v2h-2zM46 10h2v2h-2zM48 10h2v2h-2zM58 10h1v2h-1zM4 12h2v2h-2zM10 12h2v2h-2zM26 12h2v2h-2zM42 12h2v2h-2zM48 12h2v2h-2zM54 12h2v2h-2zM74 12h2v2h-2zM12 14h2v2h-2zM20 14h1v2h-1zM30 14h2v2h-2zM32 14h1v2h-1zM38 14h1v2h-1zM42 14h1v2h-1zM46 14h2v2h-2zM52 14h1v2h-1zM74 14h1v2h-1zM78 14h1v2h-1zM86 14h2v2h-2zM52 16h1v2h-1zM58 16h2v2h-2zM60 16h2v2h-2zM72 16h2v2h-2zM74 16h2v2h-2zM90 16h2v2h-2zM92 16h2v2h-2zM0 18h2v2h-2zM2 18h1v2h-1zM4 18h2v2h-2zM18 18h2v2h-2zM40 18h1v2h-1zM48 18h1v2h-1zM56 18h1v2h-1zM64 18h2v2h-2zM94 18h2v2h-2zM0 20h2v2h-2zM18 20h1v2h-1zM32 20h2v2h-2zM34 20h1v2h-1zM40 20h2v2h-2zM46 20h2v2h-2zM50 20h2v2h-2zM54 20h1v2h-1zM74 20h1v2h-1zM78 20h1v2h-1zM80 20h2v2h-2zM90 20h2v2h-2zM22 22h2v2h-2zM28 22h2v2h-2zM34 22h1v2h-1zM46 22h1v2h-1zM52 22h2v2h-2zM60 22h2v2h-2zM64 22h2v2h-2zM78 22h1v2h-1zM82 22h1v2h-1zM84 22h1v2h-1z"/><path fill="#c2c2c2" d="M2 0h2v2h-2zM4 0h1v2h-1zM32 0h2v2h-2zM44 0h2v2h-2zM48 0h2v2h-2zM80 0h1v2h-1zM82 0h2v2h-2zM4 2h2v2h-2zM8 2h2v2h-2zM16 2h2v2h-2zM18 2h2v2h-2zM34 2h2v2h-2zM38 2h2v2h-2zM42 2h2v2h-2zM52 2h2v2h-2zM54 2h1v2h-1zM80 2h2v2h-2zM88 2h2v2h-2zM90 2h2v2h-2zM92 2h2v2h-2zM10 4h2v2h-2zM12 4h2v2h-2zM14 4h2v2h-2zM22 4h2v2h-2zM28 4h1v2h-1zM34 4h2v2h-2zM38 4h2v2h-2zM40 4h2v2h-2zM44 4h1v2h-1zM46 4h2v2h-2zM68 4h2v2h-2zM76 4h2v2h-2zM78 4h2v2h-2zM82 4h1v2h-1zM6 6h2v2h-2zM8 6h2v2h-2zM56 6h2v2h-2zM62 6h2v2h-2zM70 6h2v2h-2zM72 6h2v2h-2zM78 6h1v2h-1zM82 6h2v2h-2zM86 6h2v2h-2zM92 6h1v2h-1zM10 8h2v2h-2zM16 8h2v2h-2zM22 8h2v2h-2zM26 8h2v2h-2zM28 8h2v2h-2zM30 8h2v2h-2zM34 8h1v2h-1zM54 8h2v2h-2zM58 8h1v2h-1zM66 8h2v2h-2zM4 10h1v2h-1zM14 10h2v2h-2zM16 10h2v2h-2zM20 10h2v2h-2zM34 10h1v2h-1zM50 10h1v2h-1zM72 10h2v2h-2zM78 10h2v2h-2zM86 10h2v2h-2zM88 10h2v2h-2zM94 10h2v2h-2zM0 12h2v2h-2zM6 12h1v2h-1zM18 12h2v2h-2zM32 12h1v2h-1zM34 12h1v2h-1zM38 12h2v2h-2zM44 12h1v2h-1zM46 12h2v2h-2zM62 12h1v2h-1zM68 12h2v2h-2zM70 12h1v2h-1zM76 12h2v2h-2zM80 12h2v2h-2zM0 14h2v2h-2zM4 14h2v2h-2zM26 14h2v2h-2zM28 14h2v2h-2zM50 14h2v2h-2zM64 14h2v2h-2zM70 14h2v2h-2zM84 14h1v2h-1zM92 14h2v2h-2zM94 14h2v2h-2zM0 16h2v2h-2zM12 16h2v2h-2zM14 16h2v2h-2zM28 16h2v2h-2zM30 16h1v2h-1zM38 16h2v2h-2zM46 16h1v2h-1zM54 16h2v2h-2zM68 16h1v2h-1zM78 16h2v2h-2zM84 16h1v2h-1zM6 18h2v2h-2zM8 18h1v2h-1zM10 18h2v2h-2zM12 18h2v2h-2zM22 18h1v2h-1zM24 18h2v2h-2zM26 18h2v2h-2zM30 18h2v2h-2zM32 18h2v2h-2zM36 18h2v2h-2zM38 18h2v2h-2zM44 18h2v2h-2zM66 18h1v2h-1zM82 18h1v2h-1zM84 18h2v2h-2zM88 18h2v2h-2zM90 18h2v2h-2zM4 20h2v2h-2zM10 20h2v2h-2zM22 20h2v2h-2zM26 20h1v2h-1zM28 20h2v2h-2zM36 20h2v2h-2zM42 20h1v2h-1zM68 20h2v2h-2zM72 20h2v2h-2zM76 20h2v2h-2zM86 20h2v2h-2zM88 20h2v2h-2zM92 20h1v2h-1zM94 20h2v2h-2zM6 22h1v2h-1zM8 22h1v2h-1zM20 22h2v2h-2zM26 22h1v2h-1zM38 22h1v2h-1zM40 22h1v2h-1zM48 22h1v2h-1zM56 22h2v2h-2zM58 22h2v2h-2zM70 22h2v2h-2zM88 22h2v2h-2zM90 22h2v2h-2z"/><path fill="#9c9c9c" d="M20 0h2v2h-2zM24 0h2v2h-2zM28 0h2v2h-2zM46 0h2v2h-2zM50 0h1v2h-1zM62 0h2v2h-2zM64 0h2v2h-2zM76 0h2v2h-2zM86 0h2v2h-2zM88 0h2v2h-2zM6 2h2v2h-2zM10 2h2v2h-2zM20 2h2v2h-2zM22 2h2v2h-2zM40 2h1v2h-1zM48 2h2v2h-2zM70 2h2v2h-2zM76 2h1v2h-1zM86 2h2v2h-2zM94 2h1v2h-1zM2 4h2v2h-2zM8 4h1v2h-1zM18 4h2v2h-2zM36 4h1v2h-1zM42 4h2v2h-2zM50 4h2v2h-2zM52 4h2v2h-2zM62 4h2v2h-2zM66 4h1v2h-1zM70 4h2v2h-2zM74 4h1v2h-1zM84 4h2v2h-2zM2 6h2v2h-2zM14 6h1v2h-1zM16 6h2v2h-2zM18 6h2v2h-2zM28 6h2v2h-2zM32 6h2v2h-2zM36 6h2v2h-2zM40 6h2v2h-2zM42 6h2v2h-2zM44 6h2v2h-2zM88 6h2v2h-2zM6 8h2v2h-2zM12 8h2v2h-2zM14 8h1v2h-1zM24 8h1v2h-1zM44 8h2v2h-2zM74 8h2v2h-2zM86 8h1v2h-1zM92 8h2v2h-2zM8 10h2v2h-2zM18 10h2v2h-2zM24 10h1v2h-1zM26 10h2v2h-2zM32 10h2v2h-2zM36 10h2v2h-2zM42 10h2v2h-2zM54 10h1v2h-1zM60 10h2v2h-2zM66 10h2v2h-2zM68 10h1v2h-1zM76 10h1v2h-1zM80 10h1v2h-1zM92 10h2v2h-2zM20 12h2v2h-2zM24 12h1v2h-1zM58 12h2v2h-2zM60 12h1v2h-1zM66 12h1v2h-1zM82 12h2v2h-2zM2 14h2v2h-2zM8 14h2v2h-2zM16 14h2v2h-2zM58 14h1v2h-1zM68 14h1v2h-1zM88 14h2v2h-2zM2 16h1v2h-1zM6 16h2v2h-2zM8 16h2v2h-2zM22 16h2v2h-2zM34 16h2v2h-2zM82 16h1v2h-1zM28 18h2v2h-2zM68 18h2v2h-2zM70 18h1v2h-1zM72 18h2v2h-2zM74 18h1v2h-1zM80 18h2v2h-2zM86 18h1v2h-1zM92 18h2v2h-2zM2 20h1v2h-1zM30 20h2v2h-2zM52 20h2v2h-2zM56 20h2v2h-2zM60 20h1v2h-1zM2 22h2v2h-2zM12 22h2v2h-2zM14 22h2v2h-2zM36 22h2v2h-2zM44 22h2v2h-2zM76 22h2v2h-2zM80 22h2v2h-2zM92 22h2v2h-2z"/><path fill="#6c6c6c" d="M18 0h2v2h-2zM26 0h2v2h-2zM34 0h2v2h-2zM38 0h2v2h-2zM52 0h2v2h-2zM54 0h1v2h-1zM36 2h2v2h-2zM46 2h2v2h-2zM60 2h2v2h-2zM6 4h1v2h-1zM26 4h2v2h-2zM12 6h2v2h-2zM34 6h2v2h-2zM38 6h1v2h-1zM46 6h2v2h-2zM58 6h2v2h-2zM60 6h2v2h-2zM64 6h2v2h-2zM74 6h2v2h-2zM84 6h2v2h-2zM40 8h2v2h-2zM52 8h2v2h-2zM64 8h1v2h-1zM78 8h2v2h-2zM88 8h1v2h-1zM94 8h2v2h-2zM10 10h2v2h-2zM40 10h2v2h-2zM44 10h1v2h-1zM52 10h2v2h-2zM56 10h2v2h-2zM62 10h2v2h-2zM84 10h1v2h-1zM16 12h2v2h-2zM36 12h2v2h-2zM56 12h1v2h-1zM88 12h1v2h-1zM94 12h2v2h-2zM36 14h2v2h-2zM80 14h2v2h-2zM4 16h2v2h-2zM10 16h1v2h-1zM44 16h2v2h-2zM50 16h2v2h-2zM64 16h1v2h-1zM66 16h2v2h-2zM70 16h2v2h-2zM86 16h1v2h-1zM94 16h2v2h-2zM52 18h2v2h-2zM76 18h2v2h-2zM78 18h2v2h-2zM12 20h2v2h-2zM14 20h1v2h-1zM24 20h1v2h-1zM64 20h2v2h-2zM84 20h2v2h-2zM32 22h1v2h-1zM94 22h2v2h-2z"/><path fill="#2c2c2c" d="M12 0h1v2h-1zM22 0h2v2h-2zM56 0h2v2h-2zM2 2h2v2h-2zM12 2h2v2h-2zM72 2h2v2h-2zM32 4h2v2h-2zM48 4h2v2h-2zM54 4h2v2h-2zM80 4h2v2h-2zM22 6h2v2h-2zM76 6h2v2h-2zM4 8h2v2h-2zM76 8h2v2h-2zM0 10h1v2h-1zM30 10h1v2h-1zM22 12h1v2h-1zM50 12h1v2h-1zM56 16h1v2h-1zM62 16h1v2h-1zM60 18h1v2h-1zM16 20h2v2h-2zM44 20h2v2h-2zM54 22h2v2h-2z"/></pattern>
</defs>
<rect x="660.3" y="516" width="643.4" height="24" fill="url(#frcA)"/>
<rect x="660.3" y="653" width="643.4" height="24" fill="url(#frcB)"/>
<path d="M660.3,538.6H1303.7M660.3,651.8H1303.7M660.3,677.5H1303.7" stroke="#9c9c9c" stroke-width="2.4"/>
<path fill="#bcbcbc" d="M755 577h2v1h-2zM781 600h2v2h-2zM717 583h2v2h-2zM1018 597h1v1h-1zM858 568h1v2h-1zM1210 569h1v1h-1zM695 600h1v2h-1zM1082 618h1v2h-1zM1257 578h1v1h-1zM1129 542h1v2h-1zM1271 631h1v2h-1zM803 589h1v1h-1zM1176 606h1v2h-1zM1260 589h1v1h-1zM777 635h1v1h-1zM750 637h2v2h-2zM777 642h2v1h-2zM981 614h2v2h-2zM1175 599h1v1h-1zM1160 619h2v1h-2zM960 563h1v1h-1zM927 613h1v2h-1zM1101 558h1v1h-1zM689 632h1v1h-1zM1222 628h2v1h-2zM860 569h2v1h-2zM759 628h1v2h-1zM1285 577h1v2h-1zM805 600h1v1h-1zM959 620h1v2h-1zM1097 553h1v1h-1zM1083 564h2v1h-2zM848 579h1v1h-1zM790 572h1v1h-1zM791 592h1v2h-1zM683 606h1v2h-1zM786 558h1v1h-1zM772 579h1v1h-1zM873 581h1v2h-1zM1180 620h1v1h-1zM1140 553h1v2h-1zM957 545h2v1h-2zM926 617h1v2h-1zM711 620h2v1h-2zM892 613h1v2h-1zM665 611h1v2h-1zM757 551h1v1h-1zM760 570h2v1h-2zM870 568h2v1h-2zM986 581h1v2h-1zM920 563h1v1h-1zM1127 599h1v1h-1zM672 644h1v1h-1zM1103 566h1v1h-1zM1200 650h1v2h-1zM1062 553h2v1h-2zM716 604h1v1h-1zM1043 626h2v1h-2zM1188 549h1v1h-1zM688 608h2v1h-2zM1183 578h1v1h-1zM669 643h1v2h-1zM683 627h1v1h-1zM759 579h1v1h-1zM789 565h1v1h-1zM1300 627h1v1h-1zM980 626h1v1h-1zM789 609h1v2h-1zM721 619h1v1h-1zM1176 595h2v2h-2zM748 631h1v1h-1zM1139 632h2v1h-2zM941 631h2v2h-2zM1141 606h2v1h-2zM706 626h1v1h-1zM816 605h2v1h-2zM1224 604h2v1h-2zM913 626h2v2h-2zM1190 585h1v1h-1zM1080 632h1v2h-1zM1169 541h1v1h-1zM1271 637h1v2h-1zM925 574h1v2h-1zM1011 550h1v2h-1zM1058 573h1v2h-1zM782 638h1v1h-1zM739 615h1v2h-1zM1189 561h1v2h-1zM1275 580h1v2h-1zM1232 608h1v2h-1zM982 645h2v1h-2zM1210 647h1v1h-1zM662 560h1v2h-1zM1024 613h2v2h-2zM1095 648h2v2h-2zM748 623h1v2h-1zM711 609h1v2h-1zM1275 580h2v2h-2zM1262 629h1v2h-1zM978 616h1v1h-1zM1222 638h1v2h-1zM949 623h1v2h-1zM684 576h1v1h-1zM1272 638h1v1h-1zM1038 604h1v2h-1zM773 605h1v1h-1zM848 600h1v2h-1zM1077 629h2v2h-2zM978 647h1v2h-1zM869 632h1v1h-1zM1170 579h1v1h-1zM992 637h1v2h-1zM1135 560h1v1h-1zM1038 647h1v1h-1zM836 638h1v1h-1zM1059 642h1v1h-1zM1098 580h1v2h-1zM1170 593h1v1h-1zM1255 609h2v2h-2zM1070 626h1v1h-1zM759 624h1v2h-1zM1144 571h1v2h-1zM1001 572h2v1h-2zM828 625h1v2h-1zM888 643h1v1h-1zM1229 636h1v2h-1zM1196 619h1v1h-1zM1075 646h2v1h-2zM1158 584h2v2h-2zM918 595h1v2h-1zM1216 619h1v2h-1zM1090 639h1v1h-1zM879 548h1v1h-1zM983 634h2v1h-2zM1032 585h2v2h-2zM1165 615h1v1h-1zM804 634h1v1h-1zM1237 639h2v2h-2zM1224 555h2v2h-2zM1054 571h1v2h-1zM1051 640h1v1h-1zM892 603h1v2h-1zM677 597h1v2h-1zM802 591h1v2h-1zM838 547h1v1h-1zM687 631h1v2h-1zM806 610h1v2h-1zM1002 566h2v1h-2zM842 647h2v1h-2zM805 560h2v2h-2zM933 548h2v2h-2zM1126 605h1v2h-1zM990 605h1v1h-1zM1177 646h1v2h-1zM708 593h1v2h-1zM953 615h2v2h-2zM784 608h1v2h-1zM768 624h1v1h-1zM943 563h2v1h-2zM1157 563h2v2h-2zM1140 644h2v1h-2zM702 563h1v2h-1zM1019 609h2v2h-2zM1297 574h1v1h-1zM1104 587h1v2h-1zM1157 578h1v2h-1zM1160 592h1v2h-1zM1171 593h1v1h-1zM1000 568h1v1h-1zM888 613h1v2h-1zM1267 648h1v2h-1zM765 639h1v1h-1zM751 553h2v2h-2zM680 630h1v2h-1zM1161 563h2v1h-2zM1211 578h2v2h-2zM972 611h1v1h-1zM818 640h1v1h-1zM725 637h1v2h-1zM954 605h2v2h-2zM1149 603h2v1h-2zM1213 559h2v1h-2zM1121 592h1v1h-1zM738 595h1v1h-1zM1110 628h1v1h-1zM913 627h1v1h-1zM817 640h1v1h-1zM686 546h1v1h-1zM1158 546h2v2h-2zM830 558h1v2h-1zM1147 552h2v1h-2zM782 629h1v2h-1zM730 627h1v1h-1zM708 544h2v1h-2zM984 609h2v1h-2zM1114 613h2v2h-2zM955 614h2v1h-2zM677 631h1v1h-1zM740 612h1v2h-1zM1291 608h1v2h-1zM1096 551h1v1h-1zM719 571h1v2h-1zM757 607h1v1h-1zM666 549h1v1h-1zM995 591h1v1h-1zM1248 621h1v1h-1zM1198 619h1v1h-1zM1206 588h1v1h-1zM1058 573h1v1h-1zM824 574h1v1h-1zM870 551h1v1h-1zM1290 612h1v2h-1zM837 568h1v1h-1zM880 600h1v2h-1zM663 625h1v2h-1zM1171 599h1v1h-1zM1190 575h2v2h-2zM897 600h1v1h-1zM797 547h2v1h-2zM1262 585h2v1h-2zM1077 565h1v2h-1zM938 554h1v2h-1zM1055 559h2v2h-2zM1144 568h1v1h-1zM721 635h2v2h-2zM1058 612h2v1h-2zM1082 606h2v2h-2zM856 548h1v1h-1zM709 549h2v1h-2zM1124 612h2v2h-2zM1251 590h1v2h-1zM856 586h2v1h-2zM947 620h1v2h-1zM881 632h1v2h-1zM1192 566h1v2h-1zM1091 571h1v1h-1zM708 551h2v2h-2zM1085 561h1v2h-1zM724 648h1v2h-1zM1079 603h1v1h-1zM703 543h1v2h-1zM895 620h1v2h-1zM1166 568h1v1h-1zM997 553h1v1h-1zM845 583h1v1h-1zM1077 638h1v2h-1zM816 638h1v1h-1zM694 613h1v1h-1zM842 593h1v1h-1zM732 602h1v1h-1zM921 594h1v1h-1zM935 548h1v1h-1zM832 589h1v2h-1zM1017 549h1v2h-1zM1138 602h1v1h-1zM700 588h1v1h-1zM996 597h1v1h-1zM727 593h1v2h-1zM1164 555h1v2h-1zM725 572h1v1h-1zM739 648h1v2h-1zM777 542h2v1h-2zM1074 616h1v1h-1zM1156 613h1v2h-1zM755 629h1v1h-1zM1211 581h2v1h-2zM1110 543h1v1h-1zM950 634h1v2h-1zM1286 632h1v2h-1zM1035 643h1v1h-1zM1097 542h1v1h-1zM704 582h2v2h-2zM1092 564h1v1h-1zM1196 563h1v2h-1zM807 646h1v1h-1zM922 578h2v1h-2zM1026 625h1v1h-1zM761 629h2v2h-2zM966 601h1v1h-1zM829 602h1v2h-1zM757 556h2v1h-2zM1034 638h1v1h-1zM812 559h2v2h-2zM1168 569h2v1h-2zM1213 645h1v2h-1zM723 588h1v1h-1zM1241 549h1v1h-1zM931 599h1v1h-1zM948 595h2v2h-2zM1237 646h1v2h-1zM711 639h2v2h-2zM778 616h1v1h-1zM926 645h1v1h-1zM1111 547h2v2h-2zM798 577h1v2h-1zM966 615h2v1h-2zM960 576h1v2h-1zM719 647h2v2h-2zM919 556h2v1h-2zM899 618h1v2h-1zM1153 555h1v1h-1zM1225 553h2v1h-2zM1228 608h2v1h-2zM963 590h1v2h-1zM883 624h1v1h-1zM1181 617h2v1h-2zM914 554h2v2h-2zM1197 611h2v1h-2zM1113 646h1v2h-1zM1152 574h1v1h-1zM1188 607h2v1h-2zM789 543h2v2h-2zM1126 571h1v1h-1zM1198 550h1v1h-1zM773 560h2v1h-2zM674 553h1v1h-1zM757 578h2v2h-2zM867 586h1v2h-1zM875 642h1v1h-1zM832 548h1v2h-1zM746 636h1v2h-1zM983 556h2v1h-2zM1143 632h1v2h-1zM851 543h1v1h-1zM1175 551h2v1h-2zM784 618h1v1h-1zM1060 631h1v2h-1zM750 562h2v1h-2zM731 610h1v2h-1zM983 598h1v1h-1zM682 620h1v2h-1zM797 619h1v1h-1zM1239 563h1v2h-1zM746 548h1v2h-1zM1191 619h2v2h-2zM916 598h1v1h-1zM1158 575h1v1h-1zM870 567h1v1h-1zM958 563h1v2h-1zM1101 593h1v1h-1zM730 549h1v2h-1zM971 569h2v1h-2zM950 634h2v2h-2zM1155 582h1v2h-1zM1058 552h1v1h-1zM1070 571h1v1h-1zM702 616h1v2h-1zM1083 634h2v2h-2zM942 550h1v1h-1zM1120 621h1v2h-1zM1244 614h2v1h-2zM1110 575h2v2h-2zM770 560h1v2h-1zM894 638h1v1h-1zM721 644h2v2h-2zM965 645h2v2h-2zM1148 584h1v1h-1zM1141 641h1v1h-1zM1217 597h1v1h-1zM825 592h2v1h-2zM1287 608h1v1h-1zM1129 634h2v1h-2zM1084 547h1v1h-1zM1030 542h1v1h-1zM1238 645h1v1h-1zM1205 630h1v2h-1zM855 608h1v2h-1zM844 644h1v2h-1zM1146 625h2v1h-2zM1185 611h1v1h-1zM1145 630h1v2h-1zM906 633h1v1h-1zM1007 578h1v2h-1zM1235 560h1v1h-1zM1211 645h2v1h-2zM1170 633h1v2h-1zM963 591h2v1h-2zM1129 580h1v1h-1zM738 638h1v1h-1zM899 608h1v1h-1zM789 591h1v2h-1zM1176 645h1v2h-1zM866 579h1v2h-1zM1029 553h2v1h-2zM972 586h2v1h-2zM795 580h1v1h-1zM1081 603h1v2h-1zM677 555h1v1h-1zM997 630h2v2h-2zM727 628h2v1h-2zM802 637h2v2h-2zM763 610h1v2h-1zM791 574h1v1h-1zM976 623h1v1h-1zM1049 582h2v1h-2zM779 640h2v1h-2zM1218 580h1v1h-1zM985 639h2v1h-2zM989 643h2v1h-2zM754 610h1v2h-1zM749 616h2v2h-2zM812 565h2v2h-2zM697 625h1v1h-1zM1141 567h1v1h-1zM993 560h2v1h-2zM1241 563h2v1h-2zM1141 619h2v1h-2zM836 632h2v1h-2zM975 541h1v1h-1zM1237 602h1v1h-1zM867 560h1v2h-1zM923 620h1v1h-1zM765 586h2v2h-2zM856 559h1v2h-1zM716 562h1v1h-1zM985 561h1v2h-1zM1154 606h1v2h-1zM964 563h2v1h-2zM982 566h1v2h-1zM1281 585h1v2h-1zM877 618h1v1h-1zM960 632h2v1h-2zM689 627h1v2h-1zM988 619h2v2h-2zM1271 609h1v1h-1zM1270 557h1v2h-1zM1168 605h2v1h-2zM880 644h2v2h-2zM1079 572h1v1h-1zM1056 629h1v2h-1zM838 598h1v2h-1zM1013 627h1v2h-1zM736 569h2v2h-2zM673 628h1v2h-1zM1181 609h1v2h-1zM1232 572h1v1h-1zM1263 582h1v1h-1zM796 621h1v1h-1zM861 565h1v2h-1zM740 647h1v1h-1zM1015 641h1v1h-1zM940 562h2v2h-2zM1212 583h1v1h-1zM1044 647h1v1h-1zM698 555h1v2h-1zM1115 610h1v2h-1zM766 561h2v2h-2zM1092 647h1v1h-1zM1289 588h1v2h-1zM824 566h1v1h-1zM768 638h1v1h-1zM947 609h1v2h-1zM1012 637h1v2h-1zM943 544h2v2h-2zM1085 597h1v1h-1zM1247 602h1v2h-1zM774 583h2v1h-2zM982 642h2v1h-2zM1202 580h2v1h-2zM1027 620h1v2h-1zM1276 645h2v1h-2zM864 582h1v1h-1zM1169 627h1v2h-1zM866 624h1v2h-1zM763 634h1v2h-1zM1211 649h1v1h-1zM757 624h2v2h-2zM1243 605h1v1h-1zM718 626h1v2h-1zM839 553h1v2h-1zM1227 629h1v2h-1zM1077 552h1v2h-1zM799 612h1v2h-1zM794 596h2v2h-2zM1154 616h2v2h-2zM954 635h1v2h-1zM1275 546h1v2h-1zM696 649h2v1h-2zM887 634h1v2h-1zM1184 545h1v1h-1zM718 634h1v1h-1zM959 592h2v1h-2zM1129 578h2v1h-2zM1274 611h1v1h-1zM1199 569h1v1h-1zM1242 565h1v2h-1zM828 548h1v2h-1zM1283 625h2v2h-2zM1003 634h1v1h-1zM725 641h1v1h-1zM1139 566h1v2h-1zM1189 646h1v1h-1zM995 554h1v2h-1zM1231 641h1v2h-1zM978 570h1v1h-1zM1017 624h2v2h-2zM766 638h1v2h-1zM1276 648h1v2h-1zM1035 646h1v1h-1zM863 544h1v2h-1zM741 572h2v2h-2zM1022 644h2v2h-2zM970 642h1v1h-1zM893 607h1v2h-1zM1282 568h2v1h-2zM931 564h1v1h-1zM992 613h1v1h-1zM1100 642h1v1h-1zM833 647h1v2h-1zM862 603h1v2h-1zM886 618h2v1h-2zM670 563h1v1h-1zM727 643h1v2h-1zM1094 583h2v1h-2zM705 632h1v1h-1zM1193 638h2v1h-2zM936 636h1v1h-1zM1298 649h2v2h-2zM765 620h2v1h-2zM892 639h1v1h-1zM766 558h1v1h-1zM764 596h2v1h-2zM1021 586h2v1h-2zM1128 567h1v1h-1zM1254 542h1v1h-1zM1157 632h2v2h-2zM937 593h1v1h-1zM1286 649h1v2h-1zM1294 567h1v1h-1zM789 569h1v1h-1zM879 550h1v1h-1zM990 643h1v1h-1zM772 588h1v2h-1zM1256 605h1v1h-1zM1295 621h2v1h-2zM1186 627h1v1h-1zM877 552h2v1h-2zM989 559h2v1h-2zM939 613h1v1h-1zM1240 541h1v2h-1zM727 585h2v2h-2zM1298 578h1v2h-1zM804 585h2v2h-2zM706 550h1v1h-1zM1296 641h1v2h-1zM983 594h1v1h-1zM1091 595h1v2h-1zM703 605h1v1h-1zM752 594h1v1h-1zM1108 604h2v1h-2zM1167 627h1v1h-1zM1175 567h1v2h-1zM885 617h1v2h-1zM1118 571h1v2h-1zM777 555h2v2h-2zM1215 610h1v2h-1zM1121 554h1v1h-1zM1092 541h1v2h-1zM716 574h2v2h-2zM1204 623h2v2h-2zM1282 611h2v1h-2zM861 563h2v2h-2zM743 580h2v1h-2zM1058 613h1v1h-1zM930 613h1v1h-1zM1002 571h2v2h-2zM1162 597h1v2h-1zM1010 573h2v1h-2zM1186 594h2v1h-2zM1129 635h2v2h-2zM953 550h1v1h-1zM1191 648h1v2h-1zM1069 617h1v1h-1zM881 586h1v2h-1zM1177 566h1v2h-1zM731 628h2v1h-2zM974 581h1v2h-1zM690 555h1v2h-1zM1217 589h1v1h-1zM863 647h1v1h-1zM887 548h2v1h-2zM874 634h1v2h-1zM933 558h1v1h-1zM733 571h2v2h-2zM1299 649h1v2h-1zM912 582h1v2h-1zM735 576h1v1h-1zM1062 562h1v1h-1zM850 563h1v1h-1zM964 625h1v1h-1zM685 576h2v1h-2zM988 554h1v2h-1zM861 586h1v1h-1zM1239 554h1v1h-1zM1080 587h1v1h-1zM903 545h2v2h-2zM834 626h1v2h-1zM1294 547h1v2h-1zM808 609h2v2h-2zM1013 583h1v2h-1zM1148 623h1v2h-1zM958 564h1v1h-1zM722 551h1v1h-1zM939 596h1v2h-1zM992 648h1v1h-1zM989 595h1v2h-1zM1213 564h1v2h-1zM1205 607h2v2h-2zM844 550h2v2h-2zM1202 581h2v2h-2zM750 614h1v2h-1zM765 543h1v1h-1zM919 559h2v1h-2zM1087 590h1v2h-1zM811 627h1v1h-1zM1194 582h2v1h-2zM680 565h1v2h-1zM1094 595h1v1h-1zM1009 548h1v1h-1zM828 611h1v1h-1zM1084 636h1v1h-1zM1121 621h1v1h-1zM837 574h1v1h-1zM1092 622h1v1h-1zM1144 581h1v1h-1zM1188 612h1v1h-1zM1054 545h2v1h-2zM833 633h1v1h-1zM672 638h1v1h-1zM1193 616h2v1h-2zM1214 563h2v2h-2zM1048 555h1v1h-1zM1244 543h2v1h-2zM694 617h2v2h-2zM854 621h1v1h-1zM1295 589h1v1h-1zM1181 621h1v2h-1zM721 642h2v2h-2zM1054 635h1v2h-1zM1110 592h1v1h-1zM1263 565h1v1h-1zM747 574h1v1h-1zM723 589h1v2h-1zM988 596h1v2h-1zM919 558h1v2h-1zM762 624h1v1h-1zM964 596h1v1h-1zM888 630h1v2h-1zM839 610h1v2h-1zM903 604h1v2h-1zM942 541h1v2h-1zM1170 556h2v1h-2zM1110 560h2v1h-2zM1165 615h1v2h-1zM1196 619h1v1h-1zM1205 558h1v1h-1zM865 611h1v2h-1zM840 552h2v1h-2zM765 605h1v2h-1zM1075 594h1v1h-1zM1289 636h1v1h-1zM1231 611h1v2h-1zM801 626h1v1h-1zM1263 560h1v2h-1zM729 629h2v1h-2zM1104 558h2v1h-2zM700 603h1v1h-1zM821 550h1v1h-1zM830 561h1v2h-1zM1249 565h1v2h-1zM735 565h1v1h-1zM873 553h2v2h-2zM1161 650h1v2h-1zM685 624h1v2h-1zM805 587h2v2h-2zM1095 605h2v2h-2zM838 631h1v1h-1zM1085 602h1v1h-1zM1299 596h1v1h-1zM1100 639h1v1h-1zM671 609h2v1h-2zM1202 592h1v2h-1zM940 610h1v1h-1zM1073 613h2v2h-2zM676 589h1v1h-1zM878 555h2v1h-2zM846 627h1v1h-1zM736 621h1v2h-1zM678 620h1v1h-1zM1056 610h2v2h-2zM1235 554h1v2h-1zM974 589h1v2h-1zM1254 582h1v2h-1zM969 619h1v2h-1zM994 602h1v1h-1zM1079 570h1v1h-1zM944 624h1v2h-1zM760 598h1v1h-1zM1263 639h1v1h-1zM1021 586h1v2h-1zM1087 627h2v2h-2zM1117 548h1v2h-1zM855 619h1v2h-1zM895 628h1v1h-1zM679 596h2v1h-2zM1184 601h2v1h-2zM750 631h1v2h-1zM823 567h1v1h-1zM1010 613h1v1h-1zM1214 552h1v1h-1zM1038 620h1v2h-1zM847 604h1v2h-1zM954 576h2v2h-2zM1071 596h1v2h-1zM880 581h1v2h-1zM1122 582h1v2h-1zM1043 606h1v2h-1zM1266 569h2v1h-2zM748 601h1v1h-1zM713 635h1v2h-1zM828 608h1v2h-1zM958 619h1v2h-1zM1085 552h1v2h-1zM690 562h1v2h-1zM1100 562h2v2h-2zM920 603h2v2h-2zM782 644h2v2h-2zM1297 592h1v1h-1zM1099 549h2v1h-2zM1195 637h1v2h-1zM966 575h1v1h-1zM1203 614h1v1h-1zM762 603h1v2h-1zM877 552h1v1h-1zM1121 565h1v2h-1zM856 570h1v1h-1zM1269 565h1v1h-1zM944 610h1v1h-1zM1277 566h1v1h-1zM678 552h2v2h-2zM1034 596h1v2h-1zM846 647h1v1h-1zM1229 555h2v1h-2zM1064 605h2v2h-2zM1014 630h1v2h-1zM832 585h1v1h-1zM1115 603h2v2h-2zM1045 641h1v2h-1zM692 596h2v1h-2zM686 569h2v2h-2zM1086 643h2v2h-2zM950 592h2v2h-2zM1251 616h1v1h-1zM821 616h2v1h-2zM796 564h2v2h-2zM782 577h2v2h-2zM971 546h1v1h-1zM774 549h1v1h-1zM673 593h1v1h-1zM927 634h1v2h-1zM814 574h1v2h-1zM915 611h2v1h-2zM869 607h1v1h-1zM804 649h1v1h-1zM1201 634h1v2h-1zM1280 632h2v2h-2zM1033 542h1v2h-1zM924 646h1v2h-1zM728 552h2v1h-2zM981 588h2v1h-2zM736 606h1v1h-1zM1050 587h2v2h-2zM1090 541h1v1h-1zM887 592h1v2h-1zM1064 607h1v2h-1zM858 567h2v2h-2zM1247 603h2v1h-2zM937 637h2v1h-2zM1061 593h2v1h-2zM1113 644h1v1h-1zM867 637h1v1h-1zM682 612h1v1h-1zM1131 632h2v2h-2zM1055 556h1v1h-1zM943 638h1v1h-1zM1176 560h2v2h-2zM1261 543h1v2h-1zM696 554h1v2h-1zM1197 615h2v1h-2zM871 549h1v1h-1zM1258 600h1v1h-1zM1208 591h1v2h-1zM1187 630h1v1h-1zM1181 566h1v1h-1zM1217 631h1v1h-1zM1157 610h1v1h-1zM1251 575h2v2h-2zM1100 634h2v2h-2zM838 568h2v1h-2zM749 635h1v1h-1zM1107 543h1v1h-1zM1160 625h1v2h-1zM725 572h2v2h-2zM1178 600h1v1h-1zM721 585h1v1h-1zM795 643h1v1h-1zM1244 585h1v1h-1zM952 547h1v2h-1zM737 584h1v1h-1zM1038 588h1v2h-1zM1002 617h1v2h-1zM705 587h1v1h-1zM799 576h1v1h-1zM1215 611h1v2h-1zM905 641h1v2h-1zM702 589h1v2h-1zM978 584h1v1h-1zM989 562h1v2h-1zM1225 632h1v2h-1zM1072 602h2v1h-2zM1253 613h1v2h-1zM992 572h1v2h-1zM846 636h2v2h-2zM1054 609h1v2h-1zM1072 636h1v1h-1zM838 599h1v2h-1zM1223 636h1v1h-1zM962 586h1v1h-1zM719 648h1v2h-1zM902 586h2v2h-2zM1067 581h1v1h-1zM706 598h2v2h-2zM1148 643h2v2h-2zM1027 610h1v2h-1zM873 583h1v2h-1zM686 595h2v1h-2zM1085 630h1v2h-1zM853 550h1v1h-1zM981 574h2v2h-2zM1003 546h1v1h-1zM1089 616h1v1h-1zM1250 630h1v2h-1zM705 601h2v2h-2zM806 546h1v2h-1zM684 621h2v2h-2zM900 648h1v1h-1zM961 558h1v2h-1zM1148 556h2v2h-2zM1150 548h1v2h-1zM1092 599h2v1h-2zM1017 583h2v2h-2zM670 589h1v2h-1zM855 566h2v1h-2zM853 620h1v2h-1zM1029 630h1v1h-1zM1293 542h1v2h-1zM1065 612h1v1h-1zM941 612h2v1h-2zM975 545h1v2h-1zM964 541h1v2h-1zM1088 624h2v2h-2zM1175 609h1v2h-1zM1004 606h2v1h-2zM1294 584h1v1h-1zM852 641h1v1h-1zM773 621h1v2h-1zM1143 557h1v2h-1zM823 597h1v2h-1zM1263 572h2v2h-2zM825 645h2v1h-2zM804 566h1v2h-1zM830 578h2v2h-2zM842 597h1v1h-1zM798 554h1v2h-1zM739 561h1v1h-1zM1032 590h1v2h-1zM999 625h2v1h-2zM882 641h1v1h-1zM966 577h1v1h-1zM1229 607h1v1h-1zM1254 638h1v1h-1zM1110 567h2v2h-2zM886 595h2v1h-2zM785 609h1v2h-1zM782 619h1v1h-1zM837 554h1v1h-1zM1272 610h2v1h-2zM1213 555h1v2h-1zM963 643h1v2h-1zM795 625h1v2h-1zM1232 563h2v1h-2zM1103 591h2v1h-2zM1047 552h1v1h-1zM784 602h2v2h-2zM893 550h1v1h-1zM852 609h1v2h-1zM835 578h2v1h-2zM782 560h1v2h-1zM1095 587h2v1h-2zM1274 550h2v1h-2z"/>
<path fill="#1e1e1e" d="M895.5 568.1a2.0 1.9 0 1 0 3.9 0a2.0 1.9 0 1 0 -3.9 0zM741.4 621.6a1.6 1.9 0 1 0 3.2 0a1.6 1.9 0 1 0 -3.2 0zM1204.3 620.0a1.3 1.6 0 1 0 2.6 0a1.3 1.6 0 1 0 -2.6 0zM1119.4 557.4a1.1 1.1 0 1 0 2.1 0a1.1 1.1 0 1 0 -2.1 0zM716.5 560.8a1.3 1.4 0 1 0 2.6 0a1.3 1.4 0 1 0 -2.6 0zM1082.9 553.5a2.3 1.9 0 1 0 4.6 0a2.3 1.9 0 1 0 -4.6 0zM1174.7 622.4a1.2 1.4 0 1 0 2.3 0a1.2 1.4 0 1 0 -2.3 0zM859.6 566.0a1.6 1.4 0 1 0 3.3 0a1.6 1.4 0 1 0 -3.3 0zM915.3 579.7a1.8 1.6 0 1 0 3.7 0a1.8 1.6 0 1 0 -3.7 0zM1223.6 633.3a1.7 1.4 0 1 0 3.4 0a1.7 1.4 0 1 0 -3.4 0zM773.4 580.9a1.9 1.6 0 1 0 3.9 0a1.9 1.6 0 1 0 -3.9 0zM677.6 616.6a1.5 1.6 0 1 0 2.9 0a1.5 1.6 0 1 0 -2.9 0zM1201.4 579.3a1.0 1.1 0 1 0 1.9 0a1.0 1.1 0 1 0 -1.9 0zM734.8 638.7a1.6 1.4 0 1 0 3.1 0a1.6 1.4 0 1 0 -3.1 0zM687.4 546.2a1.4 1.4 0 1 0 2.8 0a1.4 1.4 0 1 0 -2.8 0zM1144.0 558.6a1.2 1.1 0 1 0 2.3 0a1.2 1.1 0 1 0 -2.3 0zM1061.7 641.8a2.2 1.9 0 1 0 4.5 0a2.2 1.9 0 1 0 -4.5 0zM1024.2 618.0a1.9 1.6 0 1 0 3.9 0a1.9 1.6 0 1 0 -3.9 0zM1088.9 603.0a0.9 1.1 0 1 0 1.9 0a0.9 1.1 0 1 0 -1.9 0zM1148.2 611.5a1.3 1.1 0 1 0 2.6 0a1.3 1.1 0 1 0 -2.6 0zM1034.2 615.8a1.5 1.4 0 1 0 3.1 0a1.5 1.4 0 1 0 -3.1 0zM684.8 575.8a1.8 1.6 0 1 0 3.6 0a1.8 1.6 0 1 0 -3.6 0zM715.9 615.6a2.0 1.6 0 1 0 4.0 0a2.0 1.6 0 1 0 -4.0 0zM1053.4 565.4a1.6 1.9 0 1 0 3.2 0a1.6 1.9 0 1 0 -3.2 0zM1264.1 586.9a1.8 1.6 0 1 0 3.6 0a1.8 1.6 0 1 0 -3.6 0zM1131.8 630.0a1.6 1.6 0 1 0 3.3 0a1.6 1.6 0 1 0 -3.3 0zM1091.7 563.8a2.2 1.9 0 1 0 4.5 0a2.2 1.9 0 1 0 -4.5 0zM1157.6 593.9a1.1 1.4 0 1 0 2.3 0a1.1 1.4 0 1 0 -2.3 0zM1109.2 627.4a1.4 1.6 0 1 0 2.8 0a1.4 1.6 0 1 0 -2.8 0zM765.8 624.8a1.5 1.4 0 1 0 2.9 0a1.5 1.4 0 1 0 -2.9 0zM820.5 548.3a1.5 1.6 0 1 0 3.1 0a1.5 1.6 0 1 0 -3.1 0zM720.7 609.5a1.2 1.4 0 1 0 2.4 0a1.2 1.4 0 1 0 -2.4 0zM1111.8 613.1a1.6 1.4 0 1 0 3.1 0a1.6 1.4 0 1 0 -3.1 0zM665.0 615.3a1.7 1.4 0 1 0 3.4 0a1.7 1.4 0 1 0 -3.4 0zM885.4 573.7a1.5 1.4 0 1 0 3.0 0a1.5 1.4 0 1 0 -3.0 0zM815.2 608.7a1.2 1.1 0 1 0 2.3 0a1.2 1.1 0 1 0 -2.3 0zM1146.0 559.9a1.5 1.4 0 1 0 3.0 0a1.5 1.4 0 1 0 -3.0 0zM955.6 623.2a1.2 1.4 0 1 0 2.4 0a1.2 1.4 0 1 0 -2.4 0zM846.2 580.2a1.1 1.4 0 1 0 2.3 0a1.1 1.4 0 1 0 -2.3 0zM1232.4 574.2a1.2 1.1 0 1 0 2.5 0a1.2 1.1 0 1 0 -2.5 0zM946.8 554.0a1.6 1.6 0 1 0 3.2 0a1.6 1.6 0 1 0 -3.2 0zM1024.0 572.7a1.6 1.9 0 1 0 3.2 0a1.6 1.9 0 1 0 -3.2 0zM668.5 647.2a1.3 1.6 0 1 0 2.7 0a1.3 1.6 0 1 0 -2.7 0zM1118.1 645.9a1.7 1.9 0 1 0 3.5 0a1.7 1.9 0 1 0 -3.5 0zM1072.5 643.4a1.4 1.6 0 1 0 2.8 0a1.4 1.6 0 1 0 -2.8 0zM1007.7 542.9a1.2 1.1 0 1 0 2.4 0a1.2 1.1 0 1 0 -2.4 0zM1061.1 641.1a1.8 1.6 0 1 0 3.5 0a1.8 1.6 0 1 0 -3.5 0zM711.5 621.2a1.3 1.1 0 1 0 2.5 0a1.3 1.1 0 1 0 -2.5 0zM1196.1 573.4a1.7 1.4 0 1 0 3.5 0a1.7 1.4 0 1 0 -3.5 0zM996.5 636.9a1.2 1.4 0 1 0 2.4 0a1.2 1.4 0 1 0 -2.4 0zM1119.1 574.9a1.8 1.9 0 1 0 3.6 0a1.8 1.9 0 1 0 -3.6 0zM779.1 629.5a1.4 1.6 0 1 0 2.9 0a1.4 1.6 0 1 0 -2.9 0zM748.4 639.5a1.5 1.6 0 1 0 2.9 0a1.5 1.6 0 1 0 -2.9 0zM687.3 602.1a1.9 1.6 0 1 0 3.9 0a1.9 1.6 0 1 0 -3.9 0zM1263.1 594.4a1.8 1.6 0 1 0 3.6 0a1.8 1.6 0 1 0 -3.6 0zM1296.3 605.9a1.0 1.1 0 1 0 1.9 0a1.0 1.1 0 1 0 -1.9 0zM806.6 556.7a1.3 1.6 0 1 0 2.7 0a1.3 1.6 0 1 0 -2.7 0zM687.2 588.6a1.3 1.4 0 1 0 2.5 0a1.3 1.4 0 1 0 -2.5 0zM898.0 545.4a2.3 1.9 0 1 0 4.5 0a2.3 1.9 0 1 0 -4.5 0zM1162.9 587.1a1.3 1.6 0 1 0 2.7 0a1.3 1.6 0 1 0 -2.7 0zM696.9 617.3a1.3 1.6 0 1 0 2.7 0a1.3 1.6 0 1 0 -2.7 0zM666.9 643.3a1.7 1.4 0 1 0 3.4 0a1.7 1.4 0 1 0 -3.4 0zM765.9 573.3a1.9 1.6 0 1 0 3.7 0a1.9 1.6 0 1 0 -3.7 0zM1091.8 602.2a1.3 1.6 0 1 0 2.7 0a1.3 1.6 0 1 0 -2.7 0zM866.9 590.8a2.3 1.9 0 1 0 4.6 0a2.3 1.9 0 1 0 -4.6 0zM1212.2 645.3a2.0 1.9 0 1 0 4.1 0a2.0 1.9 0 1 0 -4.1 0zM1178.0 548.4a1.7 1.6 0 1 0 3.4 0a1.7 1.6 0 1 0 -3.4 0zM850.6 602.5a1.6 1.6 0 1 0 3.3 0a1.6 1.6 0 1 0 -3.3 0zM1073.7 573.7a1.7 1.6 0 1 0 3.3 0a1.7 1.6 0 1 0 -3.3 0zM1065.1 631.9a1.5 1.4 0 1 0 3.1 0a1.5 1.4 0 1 0 -3.1 0zM946.1 551.0a1.8 1.9 0 1 0 3.7 0a1.8 1.9 0 1 0 -3.7 0zM1031.2 586.1a1.7 1.9 0 1 0 3.5 0a1.7 1.9 0 1 0 -3.5 0zM942.9 569.7a1.2 1.4 0 1 0 2.5 0a1.2 1.4 0 1 0 -2.5 0zM1228.9 600.1a1.0 1.1 0 1 0 2.0 0a1.0 1.1 0 1 0 -2.0 0zM1194.9 610.9a1.5 1.4 0 1 0 2.9 0a1.5 1.4 0 1 0 -2.9 0zM821.3 593.9a1.9 1.9 0 1 0 3.8 0a1.9 1.9 0 1 0 -3.8 0zM1005.5 615.9a2.3 1.9 0 1 0 4.6 0a2.3 1.9 0 1 0 -4.6 0zM1022.8 632.3a1.3 1.1 0 1 0 2.6 0a1.3 1.1 0 1 0 -2.6 0zM746.4 595.3a2.1 1.9 0 1 0 4.3 0a2.1 1.9 0 1 0 -4.3 0zM1143.5 554.1a1.6 1.9 0 1 0 3.2 0a1.6 1.9 0 1 0 -3.2 0zM1190.1 583.5a1.7 1.4 0 1 0 3.5 0a1.7 1.4 0 1 0 -3.5 0zM784.1 592.4a0.9 1.1 0 1 0 1.9 0a0.9 1.1 0 1 0 -1.9 0zM1156.3 548.1a1.1 1.4 0 1 0 2.3 0a1.1 1.4 0 1 0 -2.3 0zM688.2 616.4a1.4 1.4 0 1 0 2.8 0a1.4 1.4 0 1 0 -2.8 0zM738.6 556.4a1.2 1.1 0 1 0 2.4 0a1.2 1.1 0 1 0 -2.4 0zM1217.1 601.7a1.4 1.6 0 1 0 2.8 0a1.4 1.6 0 1 0 -2.8 0zM1136.6 578.2a1.3 1.1 0 1 0 2.6 0a1.3 1.1 0 1 0 -2.6 0zM738.8 581.5a2.3 1.9 0 1 0 4.7 0a2.3 1.9 0 1 0 -4.7 0zM1121.0 546.6a1.8 1.9 0 1 0 3.6 0a1.8 1.9 0 1 0 -3.6 0zM888.0 576.7a1.6 1.9 0 1 0 3.2 0a1.6 1.9 0 1 0 -3.2 0zM1250.9 613.6a1.5 1.6 0 1 0 3.1 0a1.5 1.6 0 1 0 -3.1 0zM1103.1 544.3a1.9 1.9 0 1 0 3.8 0a1.9 1.9 0 1 0 -3.8 0zM1165.7 593.7a1.3 1.1 0 1 0 2.6 0a1.3 1.1 0 1 0 -2.6 0zM779.1 600.8a1.9 1.6 0 1 0 3.8 0a1.9 1.6 0 1 0 -3.8 0zM1087.2 630.6a2.3 1.9 0 1 0 4.5 0a2.3 1.9 0 1 0 -4.5 0zM1004.0 615.1a2.0 1.6 0 1 0 3.9 0a2.0 1.6 0 1 0 -3.9 0zM670.4 578.3a1.4 1.4 0 1 0 2.9 0a1.4 1.4 0 1 0 -2.9 0zM970.4 545.4a0.9 1.1 0 1 0 1.8 0a0.9 1.1 0 1 0 -1.8 0zM1056.4 610.3a1.9 1.9 0 1 0 3.7 0a1.9 1.9 0 1 0 -3.7 0zM964.5 558.8a1.6 1.6 0 1 0 3.1 0a1.6 1.6 0 1 0 -3.1 0zM1218.1 606.7a1.1 1.1 0 1 0 2.1 0a1.1 1.1 0 1 0 -2.1 0zM998.0 575.0a1.5 1.4 0 1 0 3.0 0a1.5 1.4 0 1 0 -3.0 0zM689.0 560.0a1.8 1.6 0 1 0 3.6 0a1.8 1.6 0 1 0 -3.6 0zM872.6 591.7a1.5 1.6 0 1 0 3.0 0a1.5 1.6 0 1 0 -3.0 0zM875.6 593.2a1.1 1.4 0 1 0 2.3 0a1.1 1.4 0 1 0 -2.3 0zM954.5 646.6a1.2 1.1 0 1 0 2.4 0a1.2 1.1 0 1 0 -2.4 0zM1124.6 557.2a1.5 1.6 0 1 0 3.0 0a1.5 1.6 0 1 0 -3.0 0zM979.5 569.8a2.0 1.9 0 1 0 4.0 0a2.0 1.9 0 1 0 -4.0 0zM1033.9 556.7a1.3 1.1 0 1 0 2.7 0a1.3 1.1 0 1 0 -2.7 0zM1236.4 552.1a1.6 1.4 0 1 0 3.2 0a1.6 1.4 0 1 0 -3.2 0zM1064.4 609.3a1.9 1.6 0 1 0 3.7 0a1.9 1.6 0 1 0 -3.7 0zM1166.6 567.2a1.5 1.4 0 1 0 3.1 0a1.5 1.4 0 1 0 -3.1 0zM855.0 622.9a1.6 1.6 0 1 0 3.3 0a1.6 1.6 0 1 0 -3.3 0zM1065.5 579.1a2.1 1.9 0 1 0 4.3 0a2.1 1.9 0 1 0 -4.3 0zM874.1 616.6a1.9 1.6 0 1 0 3.8 0a1.9 1.6 0 1 0 -3.8 0zM1159.9 595.4a1.6 1.4 0 1 0 3.3 0a1.6 1.4 0 1 0 -3.3 0zM1296.7 558.0a1.1 1.4 0 1 0 2.2 0a1.1 1.4 0 1 0 -2.2 0zM1216.2 590.0a1.6 1.6 0 1 0 3.1 0a1.6 1.6 0 1 0 -3.1 0zM1153.4 640.5a1.6 1.9 0 1 0 3.2 0a1.6 1.9 0 1 0 -3.2 0zM853.1 574.7a2.0 1.9 0 1 0 4.0 0a2.0 1.9 0 1 0 -4.0 0zM1258.7 578.1a1.5 1.4 0 1 0 3.0 0a1.5 1.4 0 1 0 -3.0 0zM712.2 560.9a1.8 1.9 0 1 0 3.6 0a1.8 1.9 0 1 0 -3.6 0zM959.2 644.9a1.8 1.6 0 1 0 3.6 0a1.8 1.6 0 1 0 -3.6 0zM1248.4 630.9a1.9 1.6 0 1 0 3.9 0a1.9 1.6 0 1 0 -3.9 0zM837.5 569.3a1.3 1.1 0 1 0 2.5 0a1.3 1.1 0 1 0 -2.5 0zM1061.1 567.1a1.0 1.1 0 1 0 2.0 0a1.0 1.1 0 1 0 -2.0 0zM915.8 563.2a1.8 1.9 0 1 0 3.5 0a1.8 1.9 0 1 0 -3.5 0zM981.1 552.6a1.6 1.4 0 1 0 3.2 0a1.6 1.4 0 1 0 -3.2 0zM1275.6 605.7a0.9 1.1 0 1 0 1.8 0a0.9 1.1 0 1 0 -1.8 0zM1181.9 603.0a1.1 1.4 0 1 0 2.2 0a1.1 1.4 0 1 0 -2.2 0zM834.2 610.1a1.2 1.1 0 1 0 2.4 0a1.2 1.1 0 1 0 -2.4 0zM1249.0 564.5a1.9 1.6 0 1 0 3.8 0a1.9 1.6 0 1 0 -3.8 0zM678.2 593.6a2.1 1.9 0 1 0 4.2 0a2.1 1.9 0 1 0 -4.2 0zM876.3 548.1a1.9 1.6 0 1 0 3.7 0a1.9 1.6 0 1 0 -3.7 0zM716.6 607.0a2.0 1.6 0 1 0 4.0 0a2.0 1.6 0 1 0 -4.0 0zM916.6 641.7a0.9 1.1 0 1 0 1.8 0a0.9 1.1 0 1 0 -1.8 0zM863.5 611.3a1.3 1.6 0 1 0 2.6 0a1.3 1.6 0 1 0 -2.6 0zM1052.7 618.8a1.4 1.6 0 1 0 2.8 0a1.4 1.6 0 1 0 -2.8 0zM672.7 564.3a2.2 1.9 0 1 0 4.4 0a2.2 1.9 0 1 0 -4.4 0zM718.7 628.3a1.5 1.6 0 1 0 3.1 0a1.5 1.6 0 1 0 -3.1 0zM1094.7 633.8a1.5 1.4 0 1 0 3.1 0a1.5 1.4 0 1 0 -3.1 0zM1044.5 577.1a1.7 1.9 0 1 0 3.5 0a1.7 1.9 0 1 0 -3.5 0zM1114.4 622.9a1.7 1.6 0 1 0 3.5 0a1.7 1.6 0 1 0 -3.5 0zM1011.3 616.9a1.8 1.9 0 1 0 3.5 0a1.8 1.9 0 1 0 -3.5 0zM995.1 641.7a1.3 1.4 0 1 0 2.6 0a1.3 1.4 0 1 0 -2.6 0zM1017.1 552.6a1.4 1.6 0 1 0 2.8 0a1.4 1.6 0 1 0 -2.8 0zM1062.3 584.5a1.3 1.1 0 1 0 2.7 0a1.3 1.1 0 1 0 -2.7 0zM1058.9 555.0a1.9 1.9 0 1 0 3.9 0a1.9 1.9 0 1 0 -3.9 0zM1014.9 561.3a1.8 1.9 0 1 0 3.7 0a1.8 1.9 0 1 0 -3.7 0zM756.7 560.8a1.5 1.4 0 1 0 2.9 0a1.5 1.4 0 1 0 -2.9 0zM884.5 617.2a2.0 1.6 0 1 0 4.0 0a2.0 1.6 0 1 0 -4.0 0zM978.9 609.4a1.9 1.6 0 1 0 3.9 0a1.9 1.6 0 1 0 -3.9 0zM909.9 564.5a0.9 1.1 0 1 0 1.9 0a0.9 1.1 0 1 0 -1.9 0zM1128.4 548.9a1.8 1.6 0 1 0 3.5 0a1.8 1.6 0 1 0 -3.5 0zM884.8 566.2a1.6 1.6 0 1 0 3.2 0a1.6 1.6 0 1 0 -3.2 0zM1247.3 642.2a1.1 1.4 0 1 0 2.3 0a1.1 1.4 0 1 0 -2.3 0zM675.0 617.2a1.3 1.4 0 1 0 2.5 0a1.3 1.4 0 1 0 -2.5 0zM790.9 622.5a1.5 1.6 0 1 0 3.0 0a1.5 1.6 0 1 0 -3.0 0zM1294.2 565.0a2.2 1.9 0 1 0 4.4 0a2.2 1.9 0 1 0 -4.4 0zM965.1 641.0a2.0 1.6 0 1 0 3.9 0a2.0 1.6 0 1 0 -3.9 0zM748.9 573.8a1.0 1.1 0 1 0 2.1 0a1.0 1.1 0 1 0 -2.1 0zM971.0 636.4a1.3 1.4 0 1 0 2.6 0a1.3 1.4 0 1 0 -2.6 0zM1050.2 643.4a1.5 1.4 0 1 0 3.0 0a1.5 1.4 0 1 0 -3.0 0zM1224.1 564.2a1.3 1.6 0 1 0 2.6 0a1.3 1.6 0 1 0 -2.6 0zM1154.1 588.5a1.9 1.6 0 1 0 3.8 0a1.9 1.6 0 1 0 -3.8 0zM1295.4 573.5a1.3 1.1 0 1 0 2.6 0a1.3 1.1 0 1 0 -2.6 0zM758.1 638.7a1.7 1.4 0 1 0 3.4 0a1.7 1.4 0 1 0 -3.4 0zM757.8 620.0a1.3 1.1 0 1 0 2.5 0a1.3 1.1 0 1 0 -2.5 0zM957.3 584.1a1.5 1.6 0 1 0 3.0 0a1.5 1.6 0 1 0 -3.0 0zM1246.1 617.9a2.0 1.6 0 1 0 4.0 0a2.0 1.6 0 1 0 -4.0 0zM683.1 566.9a0.9 1.1 0 1 0 1.8 0a0.9 1.1 0 1 0 -1.8 0zM982.8 566.6a1.8 1.6 0 1 0 3.6 0a1.8 1.6 0 1 0 -3.6 0zM1125.7 547.1a1.3 1.6 0 1 0 2.7 0a1.3 1.6 0 1 0 -2.7 0zM731.8 643.5a1.5 1.4 0 1 0 2.9 0a1.5 1.4 0 1 0 -2.9 0zM663.0 565.7a1.6 1.9 0 1 0 3.3 0a1.6 1.9 0 1 0 -3.3 0zM1132.1 595.1a1.1 1.1 0 1 0 2.3 0a1.1 1.1 0 1 0 -2.3 0zM1196.8 643.5a1.1 1.1 0 1 0 2.1 0a1.1 1.1 0 1 0 -2.1 0zM798.5 644.6a1.6 1.4 0 1 0 3.2 0a1.6 1.4 0 1 0 -3.2 0zM835.4 560.8a1.5 1.6 0 1 0 2.9 0a1.5 1.6 0 1 0 -2.9 0zM1277.5 562.8a1.1 1.1 0 1 0 2.2 0a1.1 1.1 0 1 0 -2.2 0zM1016.5 580.4a1.0 1.1 0 1 0 2.1 0a1.0 1.1 0 1 0 -2.1 0zM687.7 590.1a1.7 1.6 0 1 0 3.4 0a1.7 1.6 0 1 0 -3.4 0zM1101.1 646.1a1.6 1.6 0 1 0 3.1 0a1.6 1.6 0 1 0 -3.1 0zM864.4 586.4a1.4 1.4 0 1 0 2.7 0a1.4 1.4 0 1 0 -2.7 0zM906.8 585.5a1.7 1.4 0 1 0 3.4 0a1.7 1.4 0 1 0 -3.4 0zM1065.2 567.3a2.3 1.9 0 1 0 4.6 0a2.3 1.9 0 1 0 -4.6 0zM823.2 606.8a2.0 1.6 0 1 0 4.0 0a2.0 1.6 0 1 0 -4.0 0zM1187.6 612.3a1.3 1.1 0 1 0 2.6 0a1.3 1.1 0 1 0 -2.6 0zM1161.3 638.3a1.1 1.1 0 1 0 2.2 0a1.1 1.1 0 1 0 -2.2 0zM1017.1 614.6a1.7 1.6 0 1 0 3.4 0a1.7 1.6 0 1 0 -3.4 0zM862.9 645.0a1.1 1.1 0 1 0 2.2 0a1.1 1.1 0 1 0 -2.2 0zM1073.6 591.9a1.7 1.6 0 1 0 3.4 0a1.7 1.6 0 1 0 -3.4 0zM1295.1 566.9a1.5 1.6 0 1 0 3.1 0a1.5 1.6 0 1 0 -3.1 0zM702.1 645.4a1.7 1.6 0 1 0 3.4 0a1.7 1.6 0 1 0 -3.4 0zM1092.3 576.1a2.1 1.9 0 1 0 4.2 0a2.1 1.9 0 1 0 -4.2 0zM1249.6 623.1a1.9 1.6 0 1 0 3.9 0a1.9 1.6 0 1 0 -3.9 0zM962.5 618.5a2.0 1.9 0 1 0 4.0 0a2.0 1.9 0 1 0 -4.0 0zM1025.2 647.9a1.3 1.1 0 1 0 2.7 0a1.3 1.1 0 1 0 -2.7 0zM998.1 597.5a1.7 1.9 0 1 0 3.3 0a1.7 1.9 0 1 0 -3.3 0zM894.4 613.4a1.6 1.4 0 1 0 3.3 0a1.6 1.4 0 1 0 -3.3 0zM955.2 609.9a1.0 1.1 0 1 0 2.1 0a1.0 1.1 0 1 0 -2.1 0zM892.1 633.5a1.4 1.6 0 1 0 2.7 0a1.4 1.6 0 1 0 -2.7 0zM759.9 568.7a1.1 1.1 0 1 0 2.1 0a1.1 1.1 0 1 0 -2.1 0zM1083.7 597.4a1.6 1.6 0 1 0 3.2 0a1.6 1.6 0 1 0 -3.2 0zM717.3 583.9a1.8 1.6 0 1 0 3.6 0a1.8 1.6 0 1 0 -3.6 0zM947.6 592.7a1.6 1.4 0 1 0 3.2 0a1.6 1.4 0 1 0 -3.2 0zM756.8 614.1a1.6 1.6 0 1 0 3.3 0a1.6 1.6 0 1 0 -3.3 0zM1081.8 608.0a1.8 1.9 0 1 0 3.6 0a1.8 1.9 0 1 0 -3.6 0zM904.7 543.9a1.1 1.4 0 1 0 2.2 0a1.1 1.4 0 1 0 -2.2 0zM826.6 604.6a1.8 1.6 0 1 0 3.6 0a1.8 1.6 0 1 0 -3.6 0zM836.6 576.3a1.3 1.4 0 1 0 2.6 0a1.3 1.4 0 1 0 -2.6 0zM940.2 597.7a1.9 1.6 0 1 0 3.8 0a1.9 1.6 0 1 0 -3.8 0zM789.7 586.9a1.7 1.6 0 1 0 3.4 0a1.7 1.6 0 1 0 -3.4 0zM898.2 546.7a1.6 1.6 0 1 0 3.1 0a1.6 1.6 0 1 0 -3.1 0zM688.0 621.8a1.6 1.6 0 1 0 3.2 0a1.6 1.6 0 1 0 -3.2 0zM1048.6 569.2a1.4 1.4 0 1 0 2.7 0a1.4 1.4 0 1 0 -2.7 0zM1029.9 640.0a1.7 1.4 0 1 0 3.5 0a1.7 1.4 0 1 0 -3.5 0zM1204.3 603.5a1.2 1.1 0 1 0 2.4 0a1.2 1.1 0 1 0 -2.4 0zM871.3 549.5a1.6 1.6 0 1 0 3.1 0a1.6 1.6 0 1 0 -3.1 0zM997.0 594.6a0.9 1.1 0 1 0 1.9 0a0.9 1.1 0 1 0 -1.9 0zM1020.4 641.1a1.6 1.6 0 1 0 3.2 0a1.6 1.6 0 1 0 -3.2 0zM963.1 636.4a1.6 1.6 0 1 0 3.1 0a1.6 1.6 0 1 0 -3.1 0zM748.0 621.8a1.2 1.1 0 1 0 2.4 0a1.2 1.1 0 1 0 -2.4 0zM1133.3 584.6a1.3 1.1 0 1 0 2.7 0a1.3 1.1 0 1 0 -2.7 0zM848.4 577.0a1.8 1.6 0 1 0 3.7 0a1.8 1.6 0 1 0 -3.7 0zM737.1 565.4a1.2 1.1 0 1 0 2.3 0a1.2 1.1 0 1 0 -2.3 0zM671.4 594.7a1.5 1.4 0 1 0 3.0 0a1.5 1.4 0 1 0 -3.0 0zM696.4 614.2a1.6 1.6 0 1 0 3.3 0a1.6 1.6 0 1 0 -3.3 0zM696.0 615.2a1.9 1.6 0 1 0 3.8 0a1.9 1.6 0 1 0 -3.8 0zM751.0 585.1a1.3 1.1 0 1 0 2.6 0a1.3 1.1 0 1 0 -2.6 0zM1049 680h2v2h-2zM942 684h2v2h-2zM838 680h2v2h-2zM999 682h2v2h-2zM1297 684h1v1h-1zM818 680h2v2h-2zM747 682h1v1h-1zM940 684h1v1h-1zM980 684h1v1h-1zM921 681h2v2h-2zM774 685h2v2h-2zM1174 681h2v2h-2zM840 681h1v1h-1zM956 684h1v1h-1zM1230 683h1v1h-1zM1293 681h1v1h-1zM722 681h1v1h-1zM742 683h1v1h-1zM722 683h1v1h-1zM1146 682h1v1h-1zM754 684h2v2h-2zM1157 681h2v2h-2zM1017 681h2v2h-2zM1286 681h1v1h-1zM944 681h2v2h-2zM1076 685h1v1h-1zM1250 684h2v2h-2zM1038 683h2v2h-2zM1028 681h2v2h-2zM1063 680h1v1h-1zM1020 682h2v2h-2zM757 682h2v2h-2zM1282 681h1v1h-1zM869 681h2v2h-2zM949 684h2v2h-2zM687 683h1v1h-1zM1220 686h2v2h-2zM1217 684h1v1h-1zM1242 681h1v1h-1zM949 685h2v2h-2z"/>
<rect x="658.9" y="514.7" width="646.2" height="174.8" fill="none" stroke="#000" stroke-width="3"/>
<path d="M1258,534.1H1377.5M1257.5,599H1378.5" stroke="#808080" stroke-width="1.6"/>
<text x="1311" y="527.5" font-size="33" fill="#111">FRC</text>
<text x="1316.5" y="591" font-size="33" fill="#111">RC</text>
<rect x="867.3" y="478" width="226.9" height="14" fill="#000"/>
<circle cx="893.6" cy="503" r="12.2" fill="#000"/><circle cx="1069.8" cy="503" r="12.2" fill="#000"/>
<path d="M980.7,419V458" stroke="#707070" stroke-width="1.8"/>
<path d="M976.3,457.3L985.1,457.3L980.7,478.5Z" fill="#000"/>
<text x="998" y="444.6" font-size="33" fill="#222">F</text>
<circle cx="716.4" cy="701" r="12.5" fill="#000"/>
<path d="M1245.9,692L1233.2,713.3H1258.4Z" fill="#000"/>
<path d="M679.4,713H756.8M1209,713H1287.1M687.5,714L681.0,727M695.3,714L688.8,727M703.1,714L696.6,727M710.9,714L704.4,727M718.7,714L712.2,727M726.5,714L720.0,727M734.3,714L727.8,727M742.1,714L735.6,727M749.9,714L743.4,727M757.7,714L751.2,727M1210.2,714L1203.7,727M1216.3,714L1209.8,727M1224.7,714L1218.2,727M1232.6,714L1226.1,727M1242.3,714L1235.8,727M1252.0,714L1245.5,727M1263.5,714L1257.0,727M1275.0,714L1268.5,727M1285.9,714L1279.4,727" stroke="#6a6a6a" stroke-width="1.5" fill="none"/>
<path d="M657.6,762H1304.6" stroke="#a6a6a6" stroke-width="2.8" fill="none"/>
<path d="M657.6,752.5V768M716.4,752.5V768M893.2,752.5V768M1069.7,752.5V768M1245.9,752.5V768M1304.6,752.5V768" stroke="#7a7a7a" stroke-width="1.6" fill="none"/>
<path d="M658.1,762L667.6,759.8L667.6,764.2ZM715.9,762L706.4,759.8L706.4,764.2ZM716.9,762L726.4,759.8L726.4,764.2ZM892.7,762L883.2,759.8L883.2,764.2ZM893.7,762L903.2,759.8L903.2,764.2ZM1069.2,762L1059.7,759.8L1059.7,764.2ZM1070.2,762L1079.7,759.8L1079.7,764.2ZM1245.4,762L1235.9,759.8L1235.9,764.2ZM1246.4,762L1255.9,759.8L1255.9,764.2ZM1304.1,762L1294.6,759.8L1294.6,764.2Z" fill="#1a1a1a"/>
<text x="685" y="759.5" font-size="30.5" text-anchor="middle" fill="#111">50</text>
<text x="804.3" y="759.5" font-size="30.5" text-anchor="middle" fill="#111">150</text>
<text x="980.6" y="759.5" font-size="30.5" text-anchor="middle" fill="#111">150</text>
<text x="1157" y="759.5" font-size="30.5" text-anchor="middle" fill="#111">150</text>
<text x="1275.6" y="759.5" font-size="30.5" text-anchor="middle" fill="#111">50</text>
<rect x="681.7" y="813.40" width="585.37" height="21.74" fill="#407c68"/>
<rect x="681.7" y="835.14" width="585.37" height="108.70" fill="#a33a3a"/>
<rect x="681.7" y="943.84" width="585.37" height="21.74" fill="#407c68"/>
<rect x="681.7" y="965.58" width="585.37" height="10.87" fill="#a33a3a"/>
<path d="M681.7,813.40H1267.1M681.7,824.27H1267.1M681.7,835.14H1267.1M681.7,846.01H1267.1M681.7,856.88H1267.1M681.7,867.75H1267.1M681.7,878.62H1267.1M681.7,889.49H1267.1M681.7,900.36H1267.1M681.7,911.23H1267.1M681.7,922.10H1267.1M681.7,932.97H1267.1M681.7,943.84H1267.1M681.7,954.71H1267.1M681.7,965.58H1267.1M681.7,976.45H1267.1M692.34,813.4V976.4M702.99,813.4V976.4M713.63,813.4V976.4M724.27,813.4V976.4M734.92,813.4V976.4M745.56,813.4V976.4M756.20,813.4V976.4M766.84,813.4V976.4M777.49,813.4V976.4M788.13,813.4V976.4M798.77,813.4V976.4M809.42,813.4V976.4M820.06,813.4V976.4M830.70,813.4V976.4M841.35,813.4V976.4M851.99,813.4V976.4M862.63,813.4V976.4M873.27,813.4V976.4M883.92,813.4V976.4M894.56,813.4V976.4M905.20,813.4V976.4M915.85,813.4V976.4M926.49,813.4V976.4M937.13,813.4V976.4M947.78,813.4V976.4M958.42,813.4V976.4M969.06,813.4V976.4M979.70,813.4V976.4M990.35,813.4V976.4M1000.99,813.4V976.4M1011.63,813.4V976.4M1022.28,813.4V976.4M1032.92,813.4V976.4M1043.56,813.4V976.4M1054.20,813.4V976.4M1064.85,813.4V976.4M1075.49,813.4V976.4M1086.13,813.4V976.4M1096.78,813.4V976.4M1107.42,813.4V976.4M1118.06,813.4V976.4M1128.71,813.4V976.4M1139.35,813.4V976.4M1149.99,813.4V976.4M1160.64,813.4V976.4M1171.28,813.4V976.4M1181.92,813.4V976.4M1192.56,813.4V976.4M1203.21,813.4V976.4M1213.85,813.4V976.4M1224.49,813.4V976.4M1235.14,813.4V976.4M1245.78,813.4V976.4M1256.42,813.4V976.4M1267.07,813.4V976.4" stroke="#1c1010" stroke-width="1.4" fill="none"/>
<path d="M681.7,813.4V976.4499999999999" stroke="#6a6a6a" stroke-width="1.2"/>
<rect x="883.3" y="802.2" width="22" height="11" fill="#d3d1bc" stroke="#333" stroke-width="0.8"/>
<path d="M905.5,803L913,813.4H905.5Z" fill="#222"/>
<rect x="1042.6" y="802.2" width="22" height="11" fill="#d3d1bc" stroke="#333" stroke-width="0.8"/>
<path d="M1042.6,803L1035.5,813.4H1042.6Z" fill="#222"/>
<rect x="724.8" y="976.4" width="20.8" height="10.6" fill="#d3d1bc" stroke="#333" stroke-width="0.8"/>
<path d="M745.6,976.4H772L745.6,987Z" fill="#555"/>
<rect x="1203.6" y="976.4" width="20.6" height="10.6" fill="#d3d1bc" stroke="#333" stroke-width="0.8"/>
<path d="M1203.6,976.4H1178.6L1203.6,987Z" fill="#555"/>
<g stroke="#d2ca00" stroke-width="1.3" fill="none"><path d="M893.5,801.5L907,814.5M907,801.5L893.5,814.5"/><rect x="896.7" y="804.4" width="7" height="7"/><path d="M1042.4,801.5L1055.9,814.5M1055.9,801.5L1042.4,814.5"/><rect x="1045.6" y="804.4" width="7" height="7"/><path d="M717.3,888V966.4H794.5M717.3,966.4L704,970"/><rect x="678.5" y="832" width="6" height="6"/><rect x="678.5" y="940.5" width="6" height="6"/><rect x="678.5" y="951" width="6" height="6"/><rect x="1263.8" y="940.5" width="6" height="6"/><rect x="1263.8" y="951" width="6" height="6"/></g>
<g fill="#d2ca00"><text x="911.2" y="809" font-size="19" textLength="34.6" lengthAdjust="spacingAndGlyphs" fill="#ffff00" style="font-family:'Liberation Sans',Arial,sans-serif">RP-1</text><text x="1060" y="809" font-size="19" textLength="36.5" lengthAdjust="spacingAndGlyphs" fill="#ffff00" style="font-family:'Liberation Sans',Arial,sans-serif">RP-2</text><text x="716" y="881" font-size="13.5">Y</text><text x="801.5" y="967" font-size="13.5">X</text><text x="696.5" y="972.5" font-size="13.5">Z</text></g>
</svg></body></html>
